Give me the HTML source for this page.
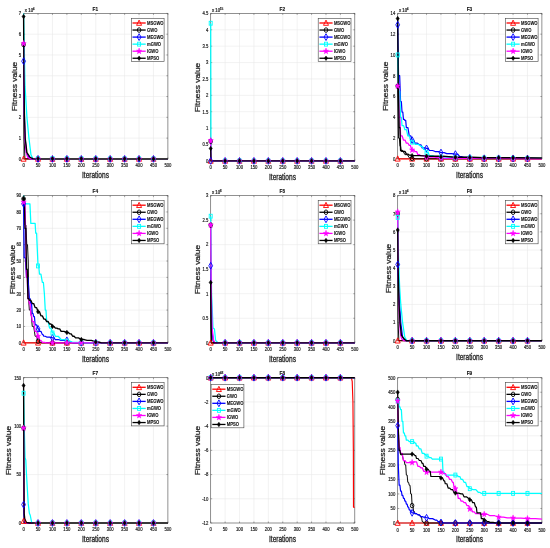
<!DOCTYPE html>
<html><head><meta charset="utf-8"><title>Convergence curves F1-F9</title>
<style>
html,body{margin:0;padding:0;background:#fff;}
body{width:550px;height:548px;overflow:hidden;}
svg{display:block;font-family:"Liberation Sans",sans-serif;}
</style></head><body>
<svg width="550" height="548" viewBox="0 0 550 548">
<rect width="550" height="548" fill="#fff"/>
<g style="filter:blur(0.3px)">
<path d="M38.03 13.40V158.90M52.46 13.40V158.90M66.89 13.40V158.90M81.32 13.40V158.90M95.75 13.40V158.90M110.18 13.40V158.90M124.61 13.40V158.90M139.04 13.40V158.90M153.47 13.40V158.90M23.60 138.11H167.90M23.60 117.33H167.90M23.60 96.54H167.90M23.60 75.76H167.90M23.60 54.97H167.90M23.60 34.19H167.90" stroke="#e8e8e8" stroke-width="0.55" fill="none"/>
<path d="M23.60 158.90v-1.5M23.60 13.40v1.5M38.03 158.90v-1.5M38.03 13.40v1.5M52.46 158.90v-1.5M52.46 13.40v1.5M66.89 158.90v-1.5M66.89 13.40v1.5M81.32 158.90v-1.5M81.32 13.40v1.5M95.75 158.90v-1.5M95.75 13.40v1.5M110.18 158.90v-1.5M110.18 13.40v1.5M124.61 158.90v-1.5M124.61 13.40v1.5M139.04 158.90v-1.5M139.04 13.40v1.5M153.47 158.90v-1.5M153.47 13.40v1.5M167.90 158.90v-1.5M167.90 13.40v1.5M23.60 158.90h1.5M167.90 158.90h-1.5M23.60 138.11h1.5M167.90 138.11h-1.5M23.60 117.33h1.5M167.90 117.33h-1.5M23.60 96.54h1.5M167.90 96.54h-1.5M23.60 75.76h1.5M167.90 75.76h-1.5M23.60 54.97h1.5M167.90 54.97h-1.5M23.60 34.19h1.5M167.90 34.19h-1.5M23.60 13.40h1.5M167.90 13.40h-1.5" stroke="#555" stroke-width="0.5" fill="none"/>
<rect x="23.60" y="13.40" width="144.30" height="145.50" fill="none" stroke="#555" stroke-width="0.65"/>
<text transform="translate(23.60 166.90) scale(0.8 1)" font-size="5.3" text-anchor="middle" font-weight="normal" fill="#222" stroke="#222" stroke-width="0.2">0</text>
<text transform="translate(38.03 166.90) scale(0.8 1)" font-size="5.3" text-anchor="middle" font-weight="normal" fill="#222" stroke="#222" stroke-width="0.2">50</text>
<text transform="translate(52.46 166.90) scale(0.8 1)" font-size="5.3" text-anchor="middle" font-weight="normal" fill="#222" stroke="#222" stroke-width="0.2">100</text>
<text transform="translate(66.89 166.90) scale(0.8 1)" font-size="5.3" text-anchor="middle" font-weight="normal" fill="#222" stroke="#222" stroke-width="0.2">150</text>
<text transform="translate(81.32 166.90) scale(0.8 1)" font-size="5.3" text-anchor="middle" font-weight="normal" fill="#222" stroke="#222" stroke-width="0.2">200</text>
<text transform="translate(95.75 166.90) scale(0.8 1)" font-size="5.3" text-anchor="middle" font-weight="normal" fill="#222" stroke="#222" stroke-width="0.2">250</text>
<text transform="translate(110.18 166.90) scale(0.8 1)" font-size="5.3" text-anchor="middle" font-weight="normal" fill="#222" stroke="#222" stroke-width="0.2">300</text>
<text transform="translate(124.61 166.90) scale(0.8 1)" font-size="5.3" text-anchor="middle" font-weight="normal" fill="#222" stroke="#222" stroke-width="0.2">350</text>
<text transform="translate(139.04 166.90) scale(0.8 1)" font-size="5.3" text-anchor="middle" font-weight="normal" fill="#222" stroke="#222" stroke-width="0.2">400</text>
<text transform="translate(153.47 166.90) scale(0.8 1)" font-size="5.3" text-anchor="middle" font-weight="normal" fill="#222" stroke="#222" stroke-width="0.2">450</text>
<text transform="translate(167.90 166.90) scale(0.8 1)" font-size="5.3" text-anchor="middle" font-weight="normal" fill="#222" stroke="#222" stroke-width="0.2">500</text>
<text transform="translate(21.20 160.70) scale(0.8 1)" font-size="5.3" text-anchor="end" font-weight="normal" fill="#222" stroke="#222" stroke-width="0.2">0</text>
<text transform="translate(21.20 139.91) scale(0.8 1)" font-size="5.3" text-anchor="end" font-weight="normal" fill="#222" stroke="#222" stroke-width="0.2">1</text>
<text transform="translate(21.20 119.13) scale(0.8 1)" font-size="5.3" text-anchor="end" font-weight="normal" fill="#222" stroke="#222" stroke-width="0.2">2</text>
<text transform="translate(21.20 98.34) scale(0.8 1)" font-size="5.3" text-anchor="end" font-weight="normal" fill="#222" stroke="#222" stroke-width="0.2">3</text>
<text transform="translate(21.20 77.56) scale(0.8 1)" font-size="5.3" text-anchor="end" font-weight="normal" fill="#222" stroke="#222" stroke-width="0.2">4</text>
<text transform="translate(21.20 56.77) scale(0.8 1)" font-size="5.3" text-anchor="end" font-weight="normal" fill="#222" stroke="#222" stroke-width="0.2">5</text>
<text transform="translate(21.20 35.99) scale(0.8 1)" font-size="5.3" text-anchor="end" font-weight="normal" fill="#222" stroke="#222" stroke-width="0.2">6</text>
<text transform="translate(21.20 15.20) scale(0.8 1)" font-size="5.3" text-anchor="end" font-weight="normal" fill="#222" stroke="#222" stroke-width="0.2">7</text>
<text transform="translate(24.80 12.10) scale(0.85 1)" font-size="5.2" text-anchor="start" font-weight="normal" fill="#2a2a2a" stroke="#2a2a2a" stroke-width="0.25">x 10<tspan font-size="3.8" dy="-2.4" dx="-0.5">4</tspan></text>
<text transform="translate(95.35 11.00) scale(0.76 1)" font-size="6.2" text-anchor="middle" font-weight="bold" fill="#111" stroke="#111" stroke-width="0.15">F1</text>
<text transform="translate(95.45 177.90) scale(0.78 1)" font-size="8.4" text-anchor="middle" font-weight="normal" fill="#262626" stroke="#262626" stroke-width="0.32">Iterations</text>
<text transform="translate(16.60 86.45) rotate(-90) scale(1 0.8)" font-size="8.4" text-anchor="middle" font-weight="normal" fill="#262626" stroke="#262626" stroke-width="0.32">Fitness value</text>
<path d="M23.60 158.90L167.90 158.90" fill="none" stroke="#ff0000" stroke-width="1.15" stroke-linejoin="round"/>
<path d="M23.60 44.58L23.89 117.33L24.18 138.11L24.90 158.90L167.90 158.90" fill="none" stroke="#000000" stroke-width="0.95" stroke-linejoin="round"/>
<path d="M23.60 61.21L23.89 86.15L24.47 117.33L25.04 138.11L26.49 152.66L28.79 157.86L31.68 158.90L167.90 158.90" fill="none" stroke="#0000ff" stroke-width="1.2" stroke-linejoin="round"/>
<path d="M23.60 13.40L24.18 44.58L25.04 86.15L26.92 117.33L28.94 138.11L30.96 154.74L32.84 158.48L167.90 158.90" fill="none" stroke="#00ffff" stroke-width="1.25" stroke-linejoin="round"/>
<path d="M23.60 43.54L23.89 86.15L24.32 117.33L24.90 138.11L26.20 152.66L27.64 157.24L30.82 158.90L167.90 158.90" fill="none" stroke="#ff00ff" stroke-width="1.25" stroke-linejoin="round"/>
<path d="M23.60 16.52L23.89 75.76L24.47 117.33L25.19 138.11L26.92 152.66L29.95 157.24L32.84 158.69L167.90 158.90" fill="none" stroke="#000000" stroke-width="1.35" stroke-linejoin="round"/>
<path d="M33.70 158.90H167.90" stroke="#3a3a3a" stroke-width="1.8"/>
<path d="M21.10 161.22L26.10 161.22L23.60 156.00Z" fill="none" stroke="#ff0000" stroke-width="0.9"/>
<path d="M35.53 161.22L40.53 161.22L38.03 156.00Z" fill="none" stroke="#ff0000" stroke-width="0.9"/>
<path d="M49.96 161.22L54.96 161.22L52.46 156.00Z" fill="none" stroke="#ff0000" stroke-width="0.9"/>
<path d="M64.39 161.22L69.39 161.22L66.89 156.00Z" fill="none" stroke="#ff0000" stroke-width="0.9"/>
<path d="M78.82 161.22L83.82 161.22L81.32 156.00Z" fill="none" stroke="#ff0000" stroke-width="0.9"/>
<path d="M93.25 161.22L98.25 161.22L95.75 156.00Z" fill="none" stroke="#ff0000" stroke-width="0.9"/>
<path d="M107.68 161.22L112.68 161.22L110.18 156.00Z" fill="none" stroke="#ff0000" stroke-width="0.9"/>
<path d="M122.11 161.22L127.11 161.22L124.61 156.00Z" fill="none" stroke="#ff0000" stroke-width="0.9"/>
<path d="M136.54 161.22L141.54 161.22L139.04 156.00Z" fill="none" stroke="#ff0000" stroke-width="0.9"/>
<path d="M150.97 161.22L155.97 161.22L153.47 156.00Z" fill="none" stroke="#ff0000" stroke-width="0.9"/>
<ellipse cx="23.60" cy="44.58" rx="1.75" ry="2.30" fill="none" stroke="#000000" stroke-width="0.9"/>
<ellipse cx="38.03" cy="158.90" rx="1.75" ry="2.30" fill="none" stroke="#000000" stroke-width="0.9"/>
<ellipse cx="52.46" cy="158.90" rx="1.75" ry="2.30" fill="none" stroke="#000000" stroke-width="0.9"/>
<ellipse cx="66.89" cy="158.90" rx="1.75" ry="2.30" fill="none" stroke="#000000" stroke-width="0.9"/>
<ellipse cx="81.32" cy="158.90" rx="1.75" ry="2.30" fill="none" stroke="#000000" stroke-width="0.9"/>
<ellipse cx="95.75" cy="158.90" rx="1.75" ry="2.30" fill="none" stroke="#000000" stroke-width="0.9"/>
<ellipse cx="110.18" cy="158.90" rx="1.75" ry="2.30" fill="none" stroke="#000000" stroke-width="0.9"/>
<ellipse cx="124.61" cy="158.90" rx="1.75" ry="2.30" fill="none" stroke="#000000" stroke-width="0.9"/>
<ellipse cx="139.04" cy="158.90" rx="1.75" ry="2.30" fill="none" stroke="#000000" stroke-width="0.9"/>
<ellipse cx="153.47" cy="158.90" rx="1.75" ry="2.30" fill="none" stroke="#000000" stroke-width="0.9"/>
<path d="M21.70 61.21L23.60 57.81L25.50 61.21L23.60 64.61Z" fill="none" stroke="#0000ff" stroke-width="0.9"/>
<path d="M36.13 158.90L38.03 155.50L39.93 158.90L38.03 162.30Z" fill="none" stroke="#0000ff" stroke-width="0.9"/>
<path d="M50.56 158.90L52.46 155.50L54.36 158.90L52.46 162.30Z" fill="none" stroke="#0000ff" stroke-width="0.9"/>
<path d="M64.99 158.90L66.89 155.50L68.79 158.90L66.89 162.30Z" fill="none" stroke="#0000ff" stroke-width="0.9"/>
<path d="M79.42 158.90L81.32 155.50L83.22 158.90L81.32 162.30Z" fill="none" stroke="#0000ff" stroke-width="0.9"/>
<path d="M93.85 158.90L95.75 155.50L97.65 158.90L95.75 162.30Z" fill="none" stroke="#0000ff" stroke-width="0.9"/>
<path d="M108.28 158.90L110.18 155.50L112.08 158.90L110.18 162.30Z" fill="none" stroke="#0000ff" stroke-width="0.9"/>
<path d="M122.71 158.90L124.61 155.50L126.51 158.90L124.61 162.30Z" fill="none" stroke="#0000ff" stroke-width="0.9"/>
<path d="M137.14 158.90L139.04 155.50L140.94 158.90L139.04 162.30Z" fill="none" stroke="#0000ff" stroke-width="0.9"/>
<path d="M151.57 158.90L153.47 155.50L155.37 158.90L153.47 162.30Z" fill="none" stroke="#0000ff" stroke-width="0.9"/>
<rect x="36.53" y="156.55" width="3.00" height="3.90" fill="none" stroke="#00ffff" stroke-width="0.9"/>
<rect x="50.96" y="156.59" width="3.00" height="3.90" fill="none" stroke="#00ffff" stroke-width="0.9"/>
<rect x="65.39" y="156.64" width="3.00" height="3.90" fill="none" stroke="#00ffff" stroke-width="0.9"/>
<rect x="79.82" y="156.68" width="3.00" height="3.90" fill="none" stroke="#00ffff" stroke-width="0.9"/>
<rect x="94.25" y="156.73" width="3.00" height="3.90" fill="none" stroke="#00ffff" stroke-width="0.9"/>
<rect x="108.68" y="156.77" width="3.00" height="3.90" fill="none" stroke="#00ffff" stroke-width="0.9"/>
<rect x="123.11" y="156.82" width="3.00" height="3.90" fill="none" stroke="#00ffff" stroke-width="0.9"/>
<rect x="137.54" y="156.86" width="3.00" height="3.90" fill="none" stroke="#00ffff" stroke-width="0.9"/>
<rect x="151.97" y="156.91" width="3.00" height="3.90" fill="none" stroke="#00ffff" stroke-width="0.9"/>
<path d="M23.60 40.41L24.25 42.53L26.22 42.57L24.65 43.93L25.22 46.07L23.60 44.79L21.98 46.07L22.55 43.93L20.98 42.57L22.95 42.53Z" fill="#ff00ff" stroke="#ff00ff" stroke-width="0.5"/>
<path d="M38.03 155.78L38.68 157.89L40.65 157.93L39.08 159.29L39.65 161.43L38.03 160.15L36.41 161.43L36.98 159.29L35.41 157.93L37.38 157.89Z" fill="#ff00ff" stroke="#ff00ff" stroke-width="0.5"/>
<path d="M52.46 155.78L53.11 157.89L55.08 157.93L53.51 159.29L54.08 161.43L52.46 160.15L50.84 161.43L51.41 159.29L49.84 157.93L51.81 157.89Z" fill="#ff00ff" stroke="#ff00ff" stroke-width="0.5"/>
<path d="M66.89 155.78L67.54 157.89L69.51 157.93L67.94 159.29L68.51 161.43L66.89 160.15L65.27 161.43L65.84 159.29L64.27 157.93L66.24 157.89Z" fill="#ff00ff" stroke="#ff00ff" stroke-width="0.5"/>
<path d="M81.32 155.78L81.97 157.89L83.94 157.93L82.37 159.29L82.94 161.43L81.32 160.15L79.70 161.43L80.27 159.29L78.70 157.93L80.67 157.89Z" fill="#ff00ff" stroke="#ff00ff" stroke-width="0.5"/>
<path d="M95.75 155.78L96.40 157.89L98.37 157.93L96.80 159.29L97.37 161.43L95.75 160.15L94.13 161.43L94.70 159.29L93.13 157.93L95.10 157.89Z" fill="#ff00ff" stroke="#ff00ff" stroke-width="0.5"/>
<path d="M110.18 155.78L110.83 157.89L112.80 157.93L111.23 159.29L111.80 161.43L110.18 160.15L108.56 161.43L109.13 159.29L107.56 157.93L109.53 157.89Z" fill="#ff00ff" stroke="#ff00ff" stroke-width="0.5"/>
<path d="M124.61 155.78L125.26 157.89L127.23 157.93L125.66 159.29L126.23 161.43L124.61 160.15L122.99 161.43L123.56 159.29L121.99 157.93L123.96 157.89Z" fill="#ff00ff" stroke="#ff00ff" stroke-width="0.5"/>
<path d="M139.04 155.78L139.69 157.89L141.66 157.93L140.09 159.29L140.66 161.43L139.04 160.15L137.42 161.43L137.99 159.29L136.42 157.93L138.39 157.89Z" fill="#ff00ff" stroke="#ff00ff" stroke-width="0.5"/>
<path d="M153.47 155.78L154.12 157.89L156.09 157.93L154.52 159.29L155.09 161.43L153.47 160.15L151.85 161.43L152.42 159.29L150.85 157.93L152.82 157.89Z" fill="#ff00ff" stroke="#ff00ff" stroke-width="0.5"/>
<path d="M22.00 16.52L23.60 14.22L25.20 16.52L23.60 18.82Z" fill="#000000" stroke="#000000" stroke-width="0.5"/>
<path d="M36.43 158.70L38.03 156.40L39.63 158.70L38.03 161.00Z" fill="#000000" stroke="#000000" stroke-width="0.5"/>
<path d="M50.86 158.72L52.46 156.42L54.06 158.72L52.46 161.02Z" fill="#000000" stroke="#000000" stroke-width="0.5"/>
<path d="M65.29 158.74L66.89 156.44L68.49 158.74L66.89 161.04Z" fill="#000000" stroke="#000000" stroke-width="0.5"/>
<path d="M79.72 158.77L81.32 156.47L82.92 158.77L81.32 161.07Z" fill="#000000" stroke="#000000" stroke-width="0.5"/>
<path d="M94.15 158.79L95.75 156.49L97.35 158.79L95.75 161.09Z" fill="#000000" stroke="#000000" stroke-width="0.5"/>
<path d="M108.58 158.81L110.18 156.51L111.78 158.81L110.18 161.11Z" fill="#000000" stroke="#000000" stroke-width="0.5"/>
<path d="M123.01 158.83L124.61 156.53L126.21 158.83L124.61 161.13Z" fill="#000000" stroke="#000000" stroke-width="0.5"/>
<path d="M137.44 158.86L139.04 156.56L140.64 158.86L139.04 161.16Z" fill="#000000" stroke="#000000" stroke-width="0.5"/>
<path d="M151.87 158.88L153.47 156.58L155.07 158.88L153.47 161.18Z" fill="#000000" stroke="#000000" stroke-width="0.5"/>
<rect x="131.30" y="18.30" width="32.8" height="43.3" fill="#fff" stroke="#444" stroke-width="0.6"/>
<path d="M132.50 23.00h13.2" stroke="#ff0000" stroke-width="1.3"/>
<path d="M136.60 25.32L141.60 25.32L139.10 20.10Z" fill="none" stroke="#ff0000" stroke-width="0.9"/>
<text transform="translate(147.00 24.80) scale(0.8 1)" font-size="5.2" text-anchor="start" font-weight="bold" fill="#111" stroke="#111" stroke-width="0.1">MSGWO</text>
<path d="M132.50 30.05h13.2" stroke="#000000" stroke-width="1.3"/>
<ellipse cx="139.10" cy="30.05" rx="1.75" ry="2.30" fill="none" stroke="#000000" stroke-width="0.9"/>
<text transform="translate(147.00 31.85) scale(0.8 1)" font-size="5.2" text-anchor="start" font-weight="bold" fill="#111" stroke="#111" stroke-width="0.1">GWO</text>
<path d="M132.50 37.10h13.2" stroke="#0000ff" stroke-width="1.3"/>
<path d="M137.20 37.10L139.10 33.70L141.00 37.10L139.10 40.50Z" fill="none" stroke="#0000ff" stroke-width="0.9"/>
<text transform="translate(147.00 38.90) scale(0.8 1)" font-size="5.2" text-anchor="start" font-weight="bold" fill="#111" stroke="#111" stroke-width="0.1">MEGWO</text>
<path d="M132.50 44.15h13.2" stroke="#00ffff" stroke-width="1.3"/>
<rect x="137.60" y="42.20" width="3.00" height="3.90" fill="none" stroke="#00ffff" stroke-width="0.9"/>
<text transform="translate(147.00 45.95) scale(0.8 1)" font-size="5.2" text-anchor="start" font-weight="bold" fill="#111" stroke="#111" stroke-width="0.1">mGWO</text>
<path d="M132.50 51.20h13.2" stroke="#ff00ff" stroke-width="1.3"/>
<path d="M139.10 48.08L139.75 50.19L141.72 50.23L140.15 51.59L140.72 53.73L139.10 52.45L137.48 53.73L138.05 51.59L136.48 50.23L138.45 50.19Z" fill="#ff00ff" stroke="#ff00ff" stroke-width="0.5"/>
<text transform="translate(147.00 53.00) scale(0.8 1)" font-size="5.2" text-anchor="start" font-weight="bold" fill="#111" stroke="#111" stroke-width="0.1">IGWO</text>
<path d="M132.50 58.25h13.2" stroke="#000000" stroke-width="1.3"/>
<path d="M137.50 58.25L139.10 55.95L140.70 58.25L139.10 60.55Z" fill="#000000" stroke="#000000" stroke-width="0.5"/>
<text transform="translate(147.00 60.05) scale(0.8 1)" font-size="5.2" text-anchor="start" font-weight="bold" fill="#111" stroke="#111" stroke-width="0.1">MPSO</text>
<path d="M225.11 13.40V160.90M239.52 13.40V160.90M253.93 13.40V160.90M268.34 13.40V160.90M282.75 13.40V160.90M297.16 13.40V160.90M311.57 13.40V160.90M325.98 13.40V160.90M340.39 13.40V160.90M210.70 144.51H354.80M210.70 128.12H354.80M210.70 111.73H354.80M210.70 95.34H354.80M210.70 78.96H354.80M210.70 62.57H354.80M210.70 46.18H354.80M210.70 29.79H354.80" stroke="#e8e8e8" stroke-width="0.55" fill="none"/>
<path d="M210.70 160.90v-1.5M210.70 13.40v1.5M225.11 160.90v-1.5M225.11 13.40v1.5M239.52 160.90v-1.5M239.52 13.40v1.5M253.93 160.90v-1.5M253.93 13.40v1.5M268.34 160.90v-1.5M268.34 13.40v1.5M282.75 160.90v-1.5M282.75 13.40v1.5M297.16 160.90v-1.5M297.16 13.40v1.5M311.57 160.90v-1.5M311.57 13.40v1.5M325.98 160.90v-1.5M325.98 13.40v1.5M340.39 160.90v-1.5M340.39 13.40v1.5M354.80 160.90v-1.5M354.80 13.40v1.5M210.70 160.90h1.5M354.80 160.90h-1.5M210.70 144.51h1.5M354.80 144.51h-1.5M210.70 128.12h1.5M354.80 128.12h-1.5M210.70 111.73h1.5M354.80 111.73h-1.5M210.70 95.34h1.5M354.80 95.34h-1.5M210.70 78.96h1.5M354.80 78.96h-1.5M210.70 62.57h1.5M354.80 62.57h-1.5M210.70 46.18h1.5M354.80 46.18h-1.5M210.70 29.79h1.5M354.80 29.79h-1.5M210.70 13.40h1.5M354.80 13.40h-1.5" stroke="#555" stroke-width="0.5" fill="none"/>
<rect x="210.70" y="13.40" width="144.10" height="147.50" fill="none" stroke="#555" stroke-width="0.65"/>
<text transform="translate(210.70 169.40) scale(0.8 1)" font-size="5.3" text-anchor="middle" font-weight="normal" fill="#222" stroke="#222" stroke-width="0.2">0</text>
<text transform="translate(225.11 169.40) scale(0.8 1)" font-size="5.3" text-anchor="middle" font-weight="normal" fill="#222" stroke="#222" stroke-width="0.2">50</text>
<text transform="translate(239.52 169.40) scale(0.8 1)" font-size="5.3" text-anchor="middle" font-weight="normal" fill="#222" stroke="#222" stroke-width="0.2">100</text>
<text transform="translate(253.93 169.40) scale(0.8 1)" font-size="5.3" text-anchor="middle" font-weight="normal" fill="#222" stroke="#222" stroke-width="0.2">150</text>
<text transform="translate(268.34 169.40) scale(0.8 1)" font-size="5.3" text-anchor="middle" font-weight="normal" fill="#222" stroke="#222" stroke-width="0.2">200</text>
<text transform="translate(282.75 169.40) scale(0.8 1)" font-size="5.3" text-anchor="middle" font-weight="normal" fill="#222" stroke="#222" stroke-width="0.2">250</text>
<text transform="translate(297.16 169.40) scale(0.8 1)" font-size="5.3" text-anchor="middle" font-weight="normal" fill="#222" stroke="#222" stroke-width="0.2">300</text>
<text transform="translate(311.57 169.40) scale(0.8 1)" font-size="5.3" text-anchor="middle" font-weight="normal" fill="#222" stroke="#222" stroke-width="0.2">350</text>
<text transform="translate(325.98 169.40) scale(0.8 1)" font-size="5.3" text-anchor="middle" font-weight="normal" fill="#222" stroke="#222" stroke-width="0.2">400</text>
<text transform="translate(340.39 169.40) scale(0.8 1)" font-size="5.3" text-anchor="middle" font-weight="normal" fill="#222" stroke="#222" stroke-width="0.2">450</text>
<text transform="translate(354.80 169.40) scale(0.8 1)" font-size="5.3" text-anchor="middle" font-weight="normal" fill="#222" stroke="#222" stroke-width="0.2">500</text>
<text transform="translate(208.30 162.70) scale(0.8 1)" font-size="5.3" text-anchor="end" font-weight="normal" fill="#222" stroke="#222" stroke-width="0.2">0</text>
<text transform="translate(208.30 146.31) scale(0.8 1)" font-size="5.3" text-anchor="end" font-weight="normal" fill="#222" stroke="#222" stroke-width="0.2">0.5</text>
<text transform="translate(208.30 129.92) scale(0.8 1)" font-size="5.3" text-anchor="end" font-weight="normal" fill="#222" stroke="#222" stroke-width="0.2">1</text>
<text transform="translate(208.30 113.53) scale(0.8 1)" font-size="5.3" text-anchor="end" font-weight="normal" fill="#222" stroke="#222" stroke-width="0.2">1.5</text>
<text transform="translate(208.30 97.14) scale(0.8 1)" font-size="5.3" text-anchor="end" font-weight="normal" fill="#222" stroke="#222" stroke-width="0.2">2</text>
<text transform="translate(208.30 80.76) scale(0.8 1)" font-size="5.3" text-anchor="end" font-weight="normal" fill="#222" stroke="#222" stroke-width="0.2">2.5</text>
<text transform="translate(208.30 64.37) scale(0.8 1)" font-size="5.3" text-anchor="end" font-weight="normal" fill="#222" stroke="#222" stroke-width="0.2">3</text>
<text transform="translate(208.30 47.98) scale(0.8 1)" font-size="5.3" text-anchor="end" font-weight="normal" fill="#222" stroke="#222" stroke-width="0.2">3.5</text>
<text transform="translate(208.30 31.59) scale(0.8 1)" font-size="5.3" text-anchor="end" font-weight="normal" fill="#222" stroke="#222" stroke-width="0.2">4</text>
<text transform="translate(208.30 15.20) scale(0.8 1)" font-size="5.3" text-anchor="end" font-weight="normal" fill="#222" stroke="#222" stroke-width="0.2">4.5</text>
<text transform="translate(211.90 12.10) scale(0.85 1)" font-size="5.2" text-anchor="start" font-weight="normal" fill="#2a2a2a" stroke="#2a2a2a" stroke-width="0.25">x 10<tspan font-size="3.8" dy="-2.4" dx="-0.5">15</tspan></text>
<text transform="translate(282.35 11.00) scale(0.76 1)" font-size="6.2" text-anchor="middle" font-weight="bold" fill="#111" stroke="#111" stroke-width="0.15">F2</text>
<text transform="translate(282.45 180.20) scale(0.78 1)" font-size="8.4" text-anchor="middle" font-weight="normal" fill="#262626" stroke="#262626" stroke-width="0.32">Iterations</text>
<text transform="translate(199.60 87.45) rotate(-90) scale(1 0.8)" font-size="8.4" text-anchor="middle" font-weight="normal" fill="#262626" stroke="#262626" stroke-width="0.32">Fitness value</text>
<path d="M210.70 160.90L354.80 160.90" fill="none" stroke="#ff0000" stroke-width="1.15" stroke-linejoin="round"/>
<path d="M210.70 141.23L210.99 160.90L354.80 160.90" fill="none" stroke="#000000" stroke-width="0.95" stroke-linejoin="round"/>
<path d="M210.70 160.90L354.80 160.90" fill="none" stroke="#0000ff" stroke-width="1.2" stroke-linejoin="round"/>
<path d="M210.70 23.23L210.99 160.90L354.80 160.90" fill="none" stroke="#00ffff" stroke-width="1.25" stroke-linejoin="round"/>
<path d="M210.70 140.58L210.99 160.90L354.80 160.90" fill="none" stroke="#ff00ff" stroke-width="1.25" stroke-linejoin="round"/>
<path d="M210.70 148.44L210.99 160.90L354.80 160.90" fill="none" stroke="#000000" stroke-width="1.35" stroke-linejoin="round"/>
<path d="M208.20 163.22L213.20 163.22L210.70 158.00Z" fill="none" stroke="#ff0000" stroke-width="0.9"/>
<path d="M222.61 163.22L227.61 163.22L225.11 158.00Z" fill="none" stroke="#ff0000" stroke-width="0.9"/>
<path d="M237.02 163.22L242.02 163.22L239.52 158.00Z" fill="none" stroke="#ff0000" stroke-width="0.9"/>
<path d="M251.43 163.22L256.43 163.22L253.93 158.00Z" fill="none" stroke="#ff0000" stroke-width="0.9"/>
<path d="M265.84 163.22L270.84 163.22L268.34 158.00Z" fill="none" stroke="#ff0000" stroke-width="0.9"/>
<path d="M280.25 163.22L285.25 163.22L282.75 158.00Z" fill="none" stroke="#ff0000" stroke-width="0.9"/>
<path d="M294.66 163.22L299.66 163.22L297.16 158.00Z" fill="none" stroke="#ff0000" stroke-width="0.9"/>
<path d="M309.07 163.22L314.07 163.22L311.57 158.00Z" fill="none" stroke="#ff0000" stroke-width="0.9"/>
<path d="M323.48 163.22L328.48 163.22L325.98 158.00Z" fill="none" stroke="#ff0000" stroke-width="0.9"/>
<path d="M337.89 163.22L342.89 163.22L340.39 158.00Z" fill="none" stroke="#ff0000" stroke-width="0.9"/>
<ellipse cx="210.70" cy="141.23" rx="1.75" ry="2.30" fill="none" stroke="#000000" stroke-width="0.9"/>
<ellipse cx="225.11" cy="160.90" rx="1.75" ry="2.30" fill="none" stroke="#000000" stroke-width="0.9"/>
<ellipse cx="239.52" cy="160.90" rx="1.75" ry="2.30" fill="none" stroke="#000000" stroke-width="0.9"/>
<ellipse cx="253.93" cy="160.90" rx="1.75" ry="2.30" fill="none" stroke="#000000" stroke-width="0.9"/>
<ellipse cx="268.34" cy="160.90" rx="1.75" ry="2.30" fill="none" stroke="#000000" stroke-width="0.9"/>
<ellipse cx="282.75" cy="160.90" rx="1.75" ry="2.30" fill="none" stroke="#000000" stroke-width="0.9"/>
<ellipse cx="297.16" cy="160.90" rx="1.75" ry="2.30" fill="none" stroke="#000000" stroke-width="0.9"/>
<ellipse cx="311.57" cy="160.90" rx="1.75" ry="2.30" fill="none" stroke="#000000" stroke-width="0.9"/>
<ellipse cx="325.98" cy="160.90" rx="1.75" ry="2.30" fill="none" stroke="#000000" stroke-width="0.9"/>
<ellipse cx="340.39" cy="160.90" rx="1.75" ry="2.30" fill="none" stroke="#000000" stroke-width="0.9"/>
<path d="M208.80 160.90L210.70 157.50L212.60 160.90L210.70 164.30Z" fill="none" stroke="#0000ff" stroke-width="0.9"/>
<path d="M223.21 160.90L225.11 157.50L227.01 160.90L225.11 164.30Z" fill="none" stroke="#0000ff" stroke-width="0.9"/>
<path d="M237.62 160.90L239.52 157.50L241.42 160.90L239.52 164.30Z" fill="none" stroke="#0000ff" stroke-width="0.9"/>
<path d="M252.03 160.90L253.93 157.50L255.83 160.90L253.93 164.30Z" fill="none" stroke="#0000ff" stroke-width="0.9"/>
<path d="M266.44 160.90L268.34 157.50L270.24 160.90L268.34 164.30Z" fill="none" stroke="#0000ff" stroke-width="0.9"/>
<path d="M280.85 160.90L282.75 157.50L284.65 160.90L282.75 164.30Z" fill="none" stroke="#0000ff" stroke-width="0.9"/>
<path d="M295.26 160.90L297.16 157.50L299.06 160.90L297.16 164.30Z" fill="none" stroke="#0000ff" stroke-width="0.9"/>
<path d="M309.67 160.90L311.57 157.50L313.47 160.90L311.57 164.30Z" fill="none" stroke="#0000ff" stroke-width="0.9"/>
<path d="M324.08 160.90L325.98 157.50L327.88 160.90L325.98 164.30Z" fill="none" stroke="#0000ff" stroke-width="0.9"/>
<path d="M338.49 160.90L340.39 157.50L342.29 160.90L340.39 164.30Z" fill="none" stroke="#0000ff" stroke-width="0.9"/>
<rect x="209.20" y="21.28" width="3.00" height="3.90" fill="none" stroke="#00ffff" stroke-width="0.9"/>
<rect x="223.61" y="158.95" width="3.00" height="3.90" fill="none" stroke="#00ffff" stroke-width="0.9"/>
<rect x="238.02" y="158.95" width="3.00" height="3.90" fill="none" stroke="#00ffff" stroke-width="0.9"/>
<rect x="252.43" y="158.95" width="3.00" height="3.90" fill="none" stroke="#00ffff" stroke-width="0.9"/>
<rect x="266.84" y="158.95" width="3.00" height="3.90" fill="none" stroke="#00ffff" stroke-width="0.9"/>
<rect x="281.25" y="158.95" width="3.00" height="3.90" fill="none" stroke="#00ffff" stroke-width="0.9"/>
<rect x="295.66" y="158.95" width="3.00" height="3.90" fill="none" stroke="#00ffff" stroke-width="0.9"/>
<rect x="310.07" y="158.95" width="3.00" height="3.90" fill="none" stroke="#00ffff" stroke-width="0.9"/>
<rect x="324.48" y="158.95" width="3.00" height="3.90" fill="none" stroke="#00ffff" stroke-width="0.9"/>
<rect x="338.89" y="158.95" width="3.00" height="3.90" fill="none" stroke="#00ffff" stroke-width="0.9"/>
<path d="M210.70 137.45L211.35 139.57L213.32 139.61L211.75 140.96L212.32 143.11L210.70 141.83L209.08 143.11L209.65 140.96L208.08 139.61L210.05 139.57Z" fill="#ff00ff" stroke="#ff00ff" stroke-width="0.5"/>
<path d="M225.11 157.78L225.76 159.89L227.73 159.93L226.16 161.29L226.73 163.43L225.11 162.15L223.49 163.43L224.06 161.29L222.49 159.93L224.46 159.89Z" fill="#ff00ff" stroke="#ff00ff" stroke-width="0.5"/>
<path d="M239.52 157.78L240.17 159.89L242.14 159.93L240.57 161.29L241.14 163.43L239.52 162.15L237.90 163.43L238.47 161.29L236.90 159.93L238.87 159.89Z" fill="#ff00ff" stroke="#ff00ff" stroke-width="0.5"/>
<path d="M253.93 157.78L254.58 159.89L256.55 159.93L254.98 161.29L255.55 163.43L253.93 162.15L252.31 163.43L252.88 161.29L251.31 159.93L253.28 159.89Z" fill="#ff00ff" stroke="#ff00ff" stroke-width="0.5"/>
<path d="M268.34 157.78L268.99 159.89L270.96 159.93L269.39 161.29L269.96 163.43L268.34 162.15L266.72 163.43L267.29 161.29L265.72 159.93L267.69 159.89Z" fill="#ff00ff" stroke="#ff00ff" stroke-width="0.5"/>
<path d="M282.75 157.78L283.40 159.89L285.37 159.93L283.80 161.29L284.37 163.43L282.75 162.15L281.13 163.43L281.70 161.29L280.13 159.93L282.10 159.89Z" fill="#ff00ff" stroke="#ff00ff" stroke-width="0.5"/>
<path d="M297.16 157.78L297.81 159.89L299.78 159.93L298.21 161.29L298.78 163.43L297.16 162.15L295.54 163.43L296.11 161.29L294.54 159.93L296.51 159.89Z" fill="#ff00ff" stroke="#ff00ff" stroke-width="0.5"/>
<path d="M311.57 157.78L312.22 159.89L314.19 159.93L312.62 161.29L313.19 163.43L311.57 162.15L309.95 163.43L310.52 161.29L308.95 159.93L310.92 159.89Z" fill="#ff00ff" stroke="#ff00ff" stroke-width="0.5"/>
<path d="M325.98 157.78L326.63 159.89L328.60 159.93L327.03 161.29L327.60 163.43L325.98 162.15L324.36 163.43L324.93 161.29L323.36 159.93L325.33 159.89Z" fill="#ff00ff" stroke="#ff00ff" stroke-width="0.5"/>
<path d="M340.39 157.78L341.04 159.89L343.01 159.93L341.44 161.29L342.01 163.43L340.39 162.15L338.77 163.43L339.34 161.29L337.77 159.93L339.74 159.89Z" fill="#ff00ff" stroke="#ff00ff" stroke-width="0.5"/>
<path d="M209.10 148.44L210.70 146.14L212.30 148.44L210.70 150.74Z" fill="#000000" stroke="#000000" stroke-width="0.5"/>
<path d="M223.51 160.90L225.11 158.60L226.71 160.90L225.11 163.20Z" fill="#000000" stroke="#000000" stroke-width="0.5"/>
<path d="M237.92 160.90L239.52 158.60L241.12 160.90L239.52 163.20Z" fill="#000000" stroke="#000000" stroke-width="0.5"/>
<path d="M252.33 160.90L253.93 158.60L255.53 160.90L253.93 163.20Z" fill="#000000" stroke="#000000" stroke-width="0.5"/>
<path d="M266.74 160.90L268.34 158.60L269.94 160.90L268.34 163.20Z" fill="#000000" stroke="#000000" stroke-width="0.5"/>
<path d="M281.15 160.90L282.75 158.60L284.35 160.90L282.75 163.20Z" fill="#000000" stroke="#000000" stroke-width="0.5"/>
<path d="M295.56 160.90L297.16 158.60L298.76 160.90L297.16 163.20Z" fill="#000000" stroke="#000000" stroke-width="0.5"/>
<path d="M309.97 160.90L311.57 158.60L313.17 160.90L311.57 163.20Z" fill="#000000" stroke="#000000" stroke-width="0.5"/>
<path d="M324.38 160.90L325.98 158.60L327.58 160.90L325.98 163.20Z" fill="#000000" stroke="#000000" stroke-width="0.5"/>
<path d="M338.79 160.90L340.39 158.60L341.99 160.90L340.39 163.20Z" fill="#000000" stroke="#000000" stroke-width="0.5"/>
<rect x="318.20" y="18.30" width="32.8" height="43.3" fill="#fff" stroke="#444" stroke-width="0.6"/>
<path d="M319.40 23.00h13.2" stroke="#ff0000" stroke-width="1.3"/>
<path d="M323.50 25.32L328.50 25.32L326.00 20.10Z" fill="none" stroke="#ff0000" stroke-width="0.9"/>
<text transform="translate(333.90 24.80) scale(0.8 1)" font-size="5.2" text-anchor="start" font-weight="bold" fill="#111" stroke="#111" stroke-width="0.1">MSGWO</text>
<path d="M319.40 30.05h13.2" stroke="#000000" stroke-width="1.3"/>
<ellipse cx="326.00" cy="30.05" rx="1.75" ry="2.30" fill="none" stroke="#000000" stroke-width="0.9"/>
<text transform="translate(333.90 31.85) scale(0.8 1)" font-size="5.2" text-anchor="start" font-weight="bold" fill="#111" stroke="#111" stroke-width="0.1">GWO</text>
<path d="M319.40 37.10h13.2" stroke="#0000ff" stroke-width="1.3"/>
<path d="M324.10 37.10L326.00 33.70L327.90 37.10L326.00 40.50Z" fill="none" stroke="#0000ff" stroke-width="0.9"/>
<text transform="translate(333.90 38.90) scale(0.8 1)" font-size="5.2" text-anchor="start" font-weight="bold" fill="#111" stroke="#111" stroke-width="0.1">MEGWO</text>
<path d="M319.40 44.15h13.2" stroke="#00ffff" stroke-width="1.3"/>
<rect x="324.50" y="42.20" width="3.00" height="3.90" fill="none" stroke="#00ffff" stroke-width="0.9"/>
<text transform="translate(333.90 45.95) scale(0.8 1)" font-size="5.2" text-anchor="start" font-weight="bold" fill="#111" stroke="#111" stroke-width="0.1">mGWO</text>
<path d="M319.40 51.20h13.2" stroke="#ff00ff" stroke-width="1.3"/>
<path d="M326.00 48.08L326.65 50.19L328.62 50.23L327.05 51.59L327.62 53.73L326.00 52.45L324.38 53.73L324.95 51.59L323.38 50.23L325.35 50.19Z" fill="#ff00ff" stroke="#ff00ff" stroke-width="0.5"/>
<text transform="translate(333.90 53.00) scale(0.8 1)" font-size="5.2" text-anchor="start" font-weight="bold" fill="#111" stroke="#111" stroke-width="0.1">IGWO</text>
<path d="M319.40 58.25h13.2" stroke="#000000" stroke-width="1.3"/>
<path d="M324.40 58.25L326.00 55.95L327.60 58.25L326.00 60.55Z" fill="#000000" stroke="#000000" stroke-width="0.5"/>
<text transform="translate(333.90 60.05) scale(0.8 1)" font-size="5.2" text-anchor="start" font-weight="bold" fill="#111" stroke="#111" stroke-width="0.1">MPSO</text>
<path d="M412.12 13.40V158.80M426.54 13.40V158.80M440.96 13.40V158.80M455.38 13.40V158.80M469.80 13.40V158.80M484.22 13.40V158.80M498.64 13.40V158.80M513.06 13.40V158.80M527.48 13.40V158.80M397.70 138.03H541.90M397.70 117.26H541.90M397.70 96.49H541.90M397.70 75.71H541.90M397.70 54.94H541.90M397.70 34.17H541.90" stroke="#e8e8e8" stroke-width="0.55" fill="none"/>
<path d="M397.70 158.80v-1.5M397.70 13.40v1.5M412.12 158.80v-1.5M412.12 13.40v1.5M426.54 158.80v-1.5M426.54 13.40v1.5M440.96 158.80v-1.5M440.96 13.40v1.5M455.38 158.80v-1.5M455.38 13.40v1.5M469.80 158.80v-1.5M469.80 13.40v1.5M484.22 158.80v-1.5M484.22 13.40v1.5M498.64 158.80v-1.5M498.64 13.40v1.5M513.06 158.80v-1.5M513.06 13.40v1.5M527.48 158.80v-1.5M527.48 13.40v1.5M541.90 158.80v-1.5M541.90 13.40v1.5M397.70 158.80h1.5M541.90 158.80h-1.5M397.70 138.03h1.5M541.90 138.03h-1.5M397.70 117.26h1.5M541.90 117.26h-1.5M397.70 96.49h1.5M541.90 96.49h-1.5M397.70 75.71h1.5M541.90 75.71h-1.5M397.70 54.94h1.5M541.90 54.94h-1.5M397.70 34.17h1.5M541.90 34.17h-1.5M397.70 13.40h1.5M541.90 13.40h-1.5" stroke="#555" stroke-width="0.5" fill="none"/>
<rect x="397.70" y="13.40" width="144.20" height="145.40" fill="none" stroke="#555" stroke-width="0.65"/>
<text transform="translate(397.70 167.10) scale(0.8 1)" font-size="5.3" text-anchor="middle" font-weight="normal" fill="#222" stroke="#222" stroke-width="0.2">0</text>
<text transform="translate(412.12 167.10) scale(0.8 1)" font-size="5.3" text-anchor="middle" font-weight="normal" fill="#222" stroke="#222" stroke-width="0.2">50</text>
<text transform="translate(426.54 167.10) scale(0.8 1)" font-size="5.3" text-anchor="middle" font-weight="normal" fill="#222" stroke="#222" stroke-width="0.2">100</text>
<text transform="translate(440.96 167.10) scale(0.8 1)" font-size="5.3" text-anchor="middle" font-weight="normal" fill="#222" stroke="#222" stroke-width="0.2">150</text>
<text transform="translate(455.38 167.10) scale(0.8 1)" font-size="5.3" text-anchor="middle" font-weight="normal" fill="#222" stroke="#222" stroke-width="0.2">200</text>
<text transform="translate(469.80 167.10) scale(0.8 1)" font-size="5.3" text-anchor="middle" font-weight="normal" fill="#222" stroke="#222" stroke-width="0.2">250</text>
<text transform="translate(484.22 167.10) scale(0.8 1)" font-size="5.3" text-anchor="middle" font-weight="normal" fill="#222" stroke="#222" stroke-width="0.2">300</text>
<text transform="translate(498.64 167.10) scale(0.8 1)" font-size="5.3" text-anchor="middle" font-weight="normal" fill="#222" stroke="#222" stroke-width="0.2">350</text>
<text transform="translate(513.06 167.10) scale(0.8 1)" font-size="5.3" text-anchor="middle" font-weight="normal" fill="#222" stroke="#222" stroke-width="0.2">400</text>
<text transform="translate(527.48 167.10) scale(0.8 1)" font-size="5.3" text-anchor="middle" font-weight="normal" fill="#222" stroke="#222" stroke-width="0.2">450</text>
<text transform="translate(541.90 167.10) scale(0.8 1)" font-size="5.3" text-anchor="middle" font-weight="normal" fill="#222" stroke="#222" stroke-width="0.2">500</text>
<text transform="translate(395.30 160.60) scale(0.8 1)" font-size="5.3" text-anchor="end" font-weight="normal" fill="#222" stroke="#222" stroke-width="0.2">0</text>
<text transform="translate(395.30 139.83) scale(0.8 1)" font-size="5.3" text-anchor="end" font-weight="normal" fill="#222" stroke="#222" stroke-width="0.2">2</text>
<text transform="translate(395.30 119.06) scale(0.8 1)" font-size="5.3" text-anchor="end" font-weight="normal" fill="#222" stroke="#222" stroke-width="0.2">4</text>
<text transform="translate(395.30 98.29) scale(0.8 1)" font-size="5.3" text-anchor="end" font-weight="normal" fill="#222" stroke="#222" stroke-width="0.2">6</text>
<text transform="translate(395.30 77.51) scale(0.8 1)" font-size="5.3" text-anchor="end" font-weight="normal" fill="#222" stroke="#222" stroke-width="0.2">8</text>
<text transform="translate(395.30 56.74) scale(0.8 1)" font-size="5.3" text-anchor="end" font-weight="normal" fill="#222" stroke="#222" stroke-width="0.2">10</text>
<text transform="translate(395.30 35.97) scale(0.8 1)" font-size="5.3" text-anchor="end" font-weight="normal" fill="#222" stroke="#222" stroke-width="0.2">12</text>
<text transform="translate(395.30 15.20) scale(0.8 1)" font-size="5.3" text-anchor="end" font-weight="normal" fill="#222" stroke="#222" stroke-width="0.2">14</text>
<text transform="translate(398.90 12.10) scale(0.85 1)" font-size="5.2" text-anchor="start" font-weight="normal" fill="#2a2a2a" stroke="#2a2a2a" stroke-width="0.25">x 10<tspan font-size="3.8" dy="-2.4" dx="-0.5">4</tspan></text>
<text transform="translate(469.40 11.00) scale(0.76 1)" font-size="6.2" text-anchor="middle" font-weight="bold" fill="#111" stroke="#111" stroke-width="0.15">F3</text>
<text transform="translate(469.50 177.98) scale(0.78 1)" font-size="8.4" text-anchor="middle" font-weight="normal" fill="#262626" stroke="#262626" stroke-width="0.32">Iterations</text>
<text transform="translate(388.20 86.40) rotate(-90) scale(1 0.8)" font-size="8.4" text-anchor="middle" font-weight="normal" fill="#262626" stroke="#262626" stroke-width="0.32">Fitness value</text>
<path d="M397.70 158.80L541.90 158.80" fill="none" stroke="#ff0000" stroke-width="1.15" stroke-linejoin="round"/>
<path d="M397.70 86.10L398.57 138.03L399.36 138.03L400.01 146.34L400.64 146.34L401.16 151.53L403.22 151.53L404.91 154.65L407.29 154.65L409.24 157.76L410.82 157.76L412.12 158.49L413.71 158.49L415.00 158.80L541.90 158.80" fill="none" stroke="#000000" stroke-width="0.95" stroke-linejoin="round"/>
<path d="M397.70 24.82L398.57 75.71L399.68 75.71L400.58 101.68L401.38 101.68L402.03 112.06L402.82 112.06L403.47 119.33L404.26 119.33L404.91 120.37L405.70 120.37L406.35 127.64L407.94 127.64L409.24 135.95L410.82 135.95L412.12 140.11L413.71 140.11L415.00 143.22L417.38 143.22L419.33 144.78L420.92 144.78L422.21 147.90L424.59 147.90L426.54 148.41L428.13 148.41L429.42 150.49L432.60 150.49L435.19 151.53L438.36 151.53L440.96 152.57L444.13 152.57L446.73 153.61L451.49 153.61L455.38 154.13L457.76 154.13L459.71 156.72L462.09 156.72L464.03 157.24L467.20 157.24L469.80 157.76L477.73 157.76L484.22 158.28L515.94 158.28L541.90 158.49" fill="none" stroke="#0000ff" stroke-width="1.2" stroke-linejoin="round"/>
<path d="M397.70 54.94L398.57 91.29L399.68 91.29L400.58 117.26L401.38 117.26L402.03 125.57L403.61 125.57L404.91 129.72L406.50 129.72L407.79 135.95L409.38 135.95L410.68 141.14L411.47 141.14L412.12 142.18L413.71 142.18L415.00 144.26L418.18 144.26L420.77 146.34L422.36 146.34L423.66 149.45L425.24 149.45L426.54 152.57L428.13 152.57L429.42 155.68L432.60 155.68L435.19 156.72L438.36 156.72L440.96 157.24L448.89 157.24L455.38 157.76L502.97 157.76L541.90 158.49" fill="none" stroke="#00ffff" stroke-width="1.25" stroke-linejoin="round"/>
<path d="M397.70 86.10L398.49 86.10L399.14 117.26L399.94 117.26L400.58 135.95L402.17 135.95L403.47 140.11L405.05 140.11L406.35 143.22L407.94 143.22L409.24 145.30L410.35 145.30L411.25 148.41L412.12 149.97L413.71 149.97L415.00 151.53L416.59 151.53L417.89 154.65L419.47 154.65L420.77 155.68L423.94 155.68L426.54 157.24L434.47 157.24L440.96 158.28L496.48 158.28L541.90 158.80" fill="none" stroke="#ff00ff" stroke-width="1.25" stroke-linejoin="round"/>
<path d="M397.70 18.59L398.28 86.10L399.14 127.64L399.94 127.64L400.58 150.49L402.17 150.49L403.47 151.53L405.05 151.53L406.35 154.13L407.94 154.13L409.24 155.17L410.82 155.17L412.12 155.68L420.05 155.68L426.54 156.20L442.40 156.20L455.38 157.24L471.24 157.24L484.22 157.76L515.94 157.76L541.90 157.97" fill="none" stroke="#000000" stroke-width="1.35" stroke-linejoin="round"/>
<path d="M395.20 161.12L400.20 161.12L397.70 155.90Z" fill="none" stroke="#ff0000" stroke-width="0.9"/>
<path d="M409.62 161.12L414.62 161.12L412.12 155.90Z" fill="none" stroke="#ff0000" stroke-width="0.9"/>
<path d="M424.04 161.12L429.04 161.12L426.54 155.90Z" fill="none" stroke="#ff0000" stroke-width="0.9"/>
<path d="M438.46 161.12L443.46 161.12L440.96 155.90Z" fill="none" stroke="#ff0000" stroke-width="0.9"/>
<path d="M452.88 161.12L457.88 161.12L455.38 155.90Z" fill="none" stroke="#ff0000" stroke-width="0.9"/>
<path d="M467.30 161.12L472.30 161.12L469.80 155.90Z" fill="none" stroke="#ff0000" stroke-width="0.9"/>
<path d="M481.72 161.12L486.72 161.12L484.22 155.90Z" fill="none" stroke="#ff0000" stroke-width="0.9"/>
<path d="M496.14 161.12L501.14 161.12L498.64 155.90Z" fill="none" stroke="#ff0000" stroke-width="0.9"/>
<path d="M510.56 161.12L515.56 161.12L513.06 155.90Z" fill="none" stroke="#ff0000" stroke-width="0.9"/>
<path d="M524.98 161.12L529.98 161.12L527.48 155.90Z" fill="none" stroke="#ff0000" stroke-width="0.9"/>
<ellipse cx="397.70" cy="86.10" rx="1.75" ry="2.30" fill="none" stroke="#000000" stroke-width="0.9"/>
<ellipse cx="412.12" cy="158.49" rx="1.75" ry="2.30" fill="none" stroke="#000000" stroke-width="0.9"/>
<ellipse cx="426.54" cy="158.80" rx="1.75" ry="2.30" fill="none" stroke="#000000" stroke-width="0.9"/>
<ellipse cx="440.96" cy="158.80" rx="1.75" ry="2.30" fill="none" stroke="#000000" stroke-width="0.9"/>
<ellipse cx="455.38" cy="158.80" rx="1.75" ry="2.30" fill="none" stroke="#000000" stroke-width="0.9"/>
<ellipse cx="469.80" cy="158.80" rx="1.75" ry="2.30" fill="none" stroke="#000000" stroke-width="0.9"/>
<ellipse cx="484.22" cy="158.80" rx="1.75" ry="2.30" fill="none" stroke="#000000" stroke-width="0.9"/>
<ellipse cx="498.64" cy="158.80" rx="1.75" ry="2.30" fill="none" stroke="#000000" stroke-width="0.9"/>
<ellipse cx="513.06" cy="158.80" rx="1.75" ry="2.30" fill="none" stroke="#000000" stroke-width="0.9"/>
<ellipse cx="527.48" cy="158.80" rx="1.75" ry="2.30" fill="none" stroke="#000000" stroke-width="0.9"/>
<path d="M395.80 24.82L397.70 21.42L399.60 24.82L397.70 28.22Z" fill="none" stroke="#0000ff" stroke-width="0.9"/>
<path d="M410.22 140.11L412.12 136.71L414.02 140.11L412.12 143.51Z" fill="none" stroke="#0000ff" stroke-width="0.9"/>
<path d="M424.64 148.41L426.54 145.01L428.44 148.41L426.54 151.81Z" fill="none" stroke="#0000ff" stroke-width="0.9"/>
<path d="M439.06 152.57L440.96 149.17L442.86 152.57L440.96 155.97Z" fill="none" stroke="#0000ff" stroke-width="0.9"/>
<path d="M453.48 154.13L455.38 150.73L457.28 154.13L455.38 157.53Z" fill="none" stroke="#0000ff" stroke-width="0.9"/>
<path d="M467.90 157.76L469.80 154.36L471.70 157.76L469.80 161.16Z" fill="none" stroke="#0000ff" stroke-width="0.9"/>
<path d="M482.32 158.28L484.22 154.88L486.12 158.28L484.22 161.68Z" fill="none" stroke="#0000ff" stroke-width="0.9"/>
<path d="M496.74 158.33L498.64 154.93L500.54 158.33L498.64 161.73Z" fill="none" stroke="#0000ff" stroke-width="0.9"/>
<path d="M511.16 158.38L513.06 154.98L514.96 158.38L513.06 161.78Z" fill="none" stroke="#0000ff" stroke-width="0.9"/>
<path d="M525.58 158.44L527.48 155.04L529.38 158.44L527.48 161.84Z" fill="none" stroke="#0000ff" stroke-width="0.9"/>
<rect x="396.20" y="52.99" width="3.00" height="3.90" fill="none" stroke="#00ffff" stroke-width="0.9"/>
<rect x="410.62" y="140.23" width="3.00" height="3.90" fill="none" stroke="#00ffff" stroke-width="0.9"/>
<rect x="425.04" y="150.62" width="3.00" height="3.90" fill="none" stroke="#00ffff" stroke-width="0.9"/>
<rect x="439.46" y="155.29" width="3.00" height="3.90" fill="none" stroke="#00ffff" stroke-width="0.9"/>
<rect x="453.88" y="155.81" width="3.00" height="3.90" fill="none" stroke="#00ffff" stroke-width="0.9"/>
<rect x="468.30" y="155.93" width="3.00" height="3.90" fill="none" stroke="#00ffff" stroke-width="0.9"/>
<rect x="482.72" y="156.05" width="3.00" height="3.90" fill="none" stroke="#00ffff" stroke-width="0.9"/>
<rect x="497.14" y="156.17" width="3.00" height="3.90" fill="none" stroke="#00ffff" stroke-width="0.9"/>
<rect x="511.56" y="156.30" width="3.00" height="3.90" fill="none" stroke="#00ffff" stroke-width="0.9"/>
<rect x="525.98" y="156.42" width="3.00" height="3.90" fill="none" stroke="#00ffff" stroke-width="0.9"/>
<path d="M397.70 82.98L398.35 85.09L400.32 85.13L398.75 86.49L399.32 88.63L397.70 87.35L396.08 88.63L396.65 86.49L395.08 85.13L397.05 85.09Z" fill="#ff00ff" stroke="#ff00ff" stroke-width="0.5"/>
<path d="M412.12 146.85L412.77 148.96L414.74 149.01L413.17 150.36L413.74 152.50L412.12 151.22L410.50 152.50L411.07 150.36L409.50 149.01L411.47 148.96Z" fill="#ff00ff" stroke="#ff00ff" stroke-width="0.5"/>
<path d="M426.54 154.12L427.19 156.23L429.16 156.28L427.59 157.63L428.16 159.77L426.54 158.49L424.92 159.77L425.49 157.63L423.92 156.28L425.89 156.23Z" fill="#ff00ff" stroke="#ff00ff" stroke-width="0.5"/>
<path d="M440.96 155.16L441.61 157.27L443.58 157.32L442.01 158.67L442.58 160.81L440.96 159.53L439.34 160.81L439.91 158.67L438.34 157.32L440.31 157.27Z" fill="#ff00ff" stroke="#ff00ff" stroke-width="0.5"/>
<path d="M455.38 155.23L456.03 157.34L458.00 157.39L456.43 158.74L457.00 160.88L455.38 159.60L453.76 160.88L454.33 158.74L452.76 157.39L454.73 157.34Z" fill="#ff00ff" stroke="#ff00ff" stroke-width="0.5"/>
<path d="M469.80 155.30L470.45 157.42L472.42 157.46L470.85 158.82L471.42 160.96L469.80 159.68L468.18 160.96L468.75 158.82L467.18 157.46L469.15 157.42Z" fill="#ff00ff" stroke="#ff00ff" stroke-width="0.5"/>
<path d="M484.22 155.38L484.87 157.49L486.84 157.54L485.27 158.89L485.84 161.03L484.22 159.75L482.60 161.03L483.17 158.89L481.60 157.54L483.57 157.49Z" fill="#ff00ff" stroke="#ff00ff" stroke-width="0.5"/>
<path d="M498.64 155.45L499.29 157.57L501.26 157.61L499.69 158.96L500.26 161.11L498.64 159.83L497.02 161.11L497.59 158.96L496.02 157.61L497.99 157.57Z" fill="#ff00ff" stroke="#ff00ff" stroke-width="0.5"/>
<path d="M513.06 155.53L513.71 157.64L515.68 157.69L514.11 159.04L514.68 161.18L513.06 159.90L511.44 161.18L512.01 159.04L510.44 157.69L512.41 157.64Z" fill="#ff00ff" stroke="#ff00ff" stroke-width="0.5"/>
<path d="M527.48 155.60L528.13 157.71L530.10 157.76L528.53 159.11L529.10 161.25L527.48 159.98L525.86 161.25L526.43 159.11L524.86 157.76L526.83 157.71Z" fill="#ff00ff" stroke="#ff00ff" stroke-width="0.5"/>
<path d="M396.10 18.59L397.70 16.29L399.30 18.59L397.70 20.89Z" fill="#000000" stroke="#000000" stroke-width="0.5"/>
<path d="M410.52 155.68L412.12 153.38L413.72 155.68L412.12 157.98Z" fill="#000000" stroke="#000000" stroke-width="0.5"/>
<path d="M424.94 156.20L426.54 153.90L428.14 156.20L426.54 158.50Z" fill="#000000" stroke="#000000" stroke-width="0.5"/>
<path d="M439.36 156.72L440.96 154.42L442.56 156.72L440.96 159.02Z" fill="#000000" stroke="#000000" stroke-width="0.5"/>
<path d="M453.78 157.24L455.38 154.94L456.98 157.24L455.38 159.54Z" fill="#000000" stroke="#000000" stroke-width="0.5"/>
<path d="M468.20 157.50L469.80 155.20L471.40 157.50L469.80 159.80Z" fill="#000000" stroke="#000000" stroke-width="0.5"/>
<path d="M482.62 157.76L484.22 155.46L485.82 157.76L484.22 160.06Z" fill="#000000" stroke="#000000" stroke-width="0.5"/>
<path d="M497.04 157.81L498.64 155.51L500.24 157.81L498.64 160.11Z" fill="#000000" stroke="#000000" stroke-width="0.5"/>
<path d="M511.46 157.87L513.06 155.57L514.66 157.87L513.06 160.17Z" fill="#000000" stroke="#000000" stroke-width="0.5"/>
<path d="M525.88 157.92L527.48 155.62L529.08 157.92L527.48 160.22Z" fill="#000000" stroke="#000000" stroke-width="0.5"/>
<rect x="505.30" y="18.30" width="32.8" height="43.3" fill="#fff" stroke="#444" stroke-width="0.6"/>
<path d="M506.50 23.00h13.2" stroke="#ff0000" stroke-width="1.3"/>
<path d="M510.60 25.32L515.60 25.32L513.10 20.10Z" fill="none" stroke="#ff0000" stroke-width="0.9"/>
<text transform="translate(521.00 24.80) scale(0.8 1)" font-size="5.2" text-anchor="start" font-weight="bold" fill="#111" stroke="#111" stroke-width="0.1">MSGWO</text>
<path d="M506.50 30.05h13.2" stroke="#000000" stroke-width="1.3"/>
<ellipse cx="513.10" cy="30.05" rx="1.75" ry="2.30" fill="none" stroke="#000000" stroke-width="0.9"/>
<text transform="translate(521.00 31.85) scale(0.8 1)" font-size="5.2" text-anchor="start" font-weight="bold" fill="#111" stroke="#111" stroke-width="0.1">GWO</text>
<path d="M506.50 37.10h13.2" stroke="#0000ff" stroke-width="1.3"/>
<path d="M511.20 37.10L513.10 33.70L515.00 37.10L513.10 40.50Z" fill="none" stroke="#0000ff" stroke-width="0.9"/>
<text transform="translate(521.00 38.90) scale(0.8 1)" font-size="5.2" text-anchor="start" font-weight="bold" fill="#111" stroke="#111" stroke-width="0.1">MEGWO</text>
<path d="M506.50 44.15h13.2" stroke="#00ffff" stroke-width="1.3"/>
<rect x="511.60" y="42.20" width="3.00" height="3.90" fill="none" stroke="#00ffff" stroke-width="0.9"/>
<text transform="translate(521.00 45.95) scale(0.8 1)" font-size="5.2" text-anchor="start" font-weight="bold" fill="#111" stroke="#111" stroke-width="0.1">mGWO</text>
<path d="M506.50 51.20h13.2" stroke="#ff00ff" stroke-width="1.3"/>
<path d="M513.10 48.08L513.75 50.19L515.72 50.23L514.15 51.59L514.72 53.73L513.10 52.45L511.48 53.73L512.05 51.59L510.48 50.23L512.45 50.19Z" fill="#ff00ff" stroke="#ff00ff" stroke-width="0.5"/>
<text transform="translate(521.00 53.00) scale(0.8 1)" font-size="5.2" text-anchor="start" font-weight="bold" fill="#111" stroke="#111" stroke-width="0.1">IGWO</text>
<path d="M506.50 58.25h13.2" stroke="#000000" stroke-width="1.3"/>
<path d="M511.50 58.25L513.10 55.95L514.70 58.25L513.10 60.55Z" fill="#000000" stroke="#000000" stroke-width="0.5"/>
<text transform="translate(521.00 60.05) scale(0.8 1)" font-size="5.2" text-anchor="start" font-weight="bold" fill="#111" stroke="#111" stroke-width="0.1">MPSO</text>
<path d="M38.03 195.60V342.80M52.46 195.60V342.80M66.89 195.60V342.80M81.32 195.60V342.80M95.75 195.60V342.80M110.18 195.60V342.80M124.61 195.60V342.80M139.04 195.60V342.80M153.47 195.60V342.80M23.60 326.44H167.90M23.60 310.09H167.90M23.60 293.73H167.90M23.60 277.38H167.90M23.60 261.02H167.90M23.60 244.67H167.90M23.60 228.31H167.90M23.60 211.96H167.90" stroke="#e8e8e8" stroke-width="0.55" fill="none"/>
<path d="M23.60 342.80v-1.5M23.60 195.60v1.5M38.03 342.80v-1.5M38.03 195.60v1.5M52.46 342.80v-1.5M52.46 195.60v1.5M66.89 342.80v-1.5M66.89 195.60v1.5M81.32 342.80v-1.5M81.32 195.60v1.5M95.75 342.80v-1.5M95.75 195.60v1.5M110.18 342.80v-1.5M110.18 195.60v1.5M124.61 342.80v-1.5M124.61 195.60v1.5M139.04 342.80v-1.5M139.04 195.60v1.5M153.47 342.80v-1.5M153.47 195.60v1.5M167.90 342.80v-1.5M167.90 195.60v1.5M23.60 342.80h1.5M167.90 342.80h-1.5M23.60 326.44h1.5M167.90 326.44h-1.5M23.60 310.09h1.5M167.90 310.09h-1.5M23.60 293.73h1.5M167.90 293.73h-1.5M23.60 277.38h1.5M167.90 277.38h-1.5M23.60 261.02h1.5M167.90 261.02h-1.5M23.60 244.67h1.5M167.90 244.67h-1.5M23.60 228.31h1.5M167.90 228.31h-1.5M23.60 211.96h1.5M167.90 211.96h-1.5M23.60 195.60h1.5M167.90 195.60h-1.5" stroke="#555" stroke-width="0.5" fill="none"/>
<rect x="23.60" y="195.60" width="144.30" height="147.20" fill="none" stroke="#555" stroke-width="0.65"/>
<text transform="translate(23.60 350.90) scale(0.8 1)" font-size="5.3" text-anchor="middle" font-weight="normal" fill="#222" stroke="#222" stroke-width="0.2">0</text>
<text transform="translate(38.03 350.90) scale(0.8 1)" font-size="5.3" text-anchor="middle" font-weight="normal" fill="#222" stroke="#222" stroke-width="0.2">50</text>
<text transform="translate(52.46 350.90) scale(0.8 1)" font-size="5.3" text-anchor="middle" font-weight="normal" fill="#222" stroke="#222" stroke-width="0.2">100</text>
<text transform="translate(66.89 350.90) scale(0.8 1)" font-size="5.3" text-anchor="middle" font-weight="normal" fill="#222" stroke="#222" stroke-width="0.2">150</text>
<text transform="translate(81.32 350.90) scale(0.8 1)" font-size="5.3" text-anchor="middle" font-weight="normal" fill="#222" stroke="#222" stroke-width="0.2">200</text>
<text transform="translate(95.75 350.90) scale(0.8 1)" font-size="5.3" text-anchor="middle" font-weight="normal" fill="#222" stroke="#222" stroke-width="0.2">250</text>
<text transform="translate(110.18 350.90) scale(0.8 1)" font-size="5.3" text-anchor="middle" font-weight="normal" fill="#222" stroke="#222" stroke-width="0.2">300</text>
<text transform="translate(124.61 350.90) scale(0.8 1)" font-size="5.3" text-anchor="middle" font-weight="normal" fill="#222" stroke="#222" stroke-width="0.2">350</text>
<text transform="translate(139.04 350.90) scale(0.8 1)" font-size="5.3" text-anchor="middle" font-weight="normal" fill="#222" stroke="#222" stroke-width="0.2">400</text>
<text transform="translate(153.47 350.90) scale(0.8 1)" font-size="5.3" text-anchor="middle" font-weight="normal" fill="#222" stroke="#222" stroke-width="0.2">450</text>
<text transform="translate(167.90 350.90) scale(0.8 1)" font-size="5.3" text-anchor="middle" font-weight="normal" fill="#222" stroke="#222" stroke-width="0.2">500</text>
<text transform="translate(21.20 344.60) scale(0.8 1)" font-size="5.3" text-anchor="end" font-weight="normal" fill="#222" stroke="#222" stroke-width="0.2">0</text>
<text transform="translate(21.20 328.24) scale(0.8 1)" font-size="5.3" text-anchor="end" font-weight="normal" fill="#222" stroke="#222" stroke-width="0.2">10</text>
<text transform="translate(21.20 311.89) scale(0.8 1)" font-size="5.3" text-anchor="end" font-weight="normal" fill="#222" stroke="#222" stroke-width="0.2">20</text>
<text transform="translate(21.20 295.53) scale(0.8 1)" font-size="5.3" text-anchor="end" font-weight="normal" fill="#222" stroke="#222" stroke-width="0.2">30</text>
<text transform="translate(21.20 279.18) scale(0.8 1)" font-size="5.3" text-anchor="end" font-weight="normal" fill="#222" stroke="#222" stroke-width="0.2">40</text>
<text transform="translate(21.20 262.82) scale(0.8 1)" font-size="5.3" text-anchor="end" font-weight="normal" fill="#222" stroke="#222" stroke-width="0.2">50</text>
<text transform="translate(21.20 246.47) scale(0.8 1)" font-size="5.3" text-anchor="end" font-weight="normal" fill="#222" stroke="#222" stroke-width="0.2">60</text>
<text transform="translate(21.20 230.11) scale(0.8 1)" font-size="5.3" text-anchor="end" font-weight="normal" fill="#222" stroke="#222" stroke-width="0.2">70</text>
<text transform="translate(21.20 213.76) scale(0.8 1)" font-size="5.3" text-anchor="end" font-weight="normal" fill="#222" stroke="#222" stroke-width="0.2">80</text>
<text transform="translate(21.20 197.40) scale(0.8 1)" font-size="5.3" text-anchor="end" font-weight="normal" fill="#222" stroke="#222" stroke-width="0.2">90</text>
<text transform="translate(95.35 193.20) scale(0.76 1)" font-size="6.2" text-anchor="middle" font-weight="bold" fill="#111" stroke="#111" stroke-width="0.15">F4</text>
<text transform="translate(95.45 361.86) scale(0.78 1)" font-size="8.4" text-anchor="middle" font-weight="normal" fill="#262626" stroke="#262626" stroke-width="0.32">Iterations</text>
<text transform="translate(14.70 269.50) rotate(-90) scale(1 0.8)" font-size="8.4" text-anchor="middle" font-weight="normal" fill="#262626" stroke="#262626" stroke-width="0.32">Fitness value</text>
<path d="M23.60 342.80L167.90 342.80" fill="none" stroke="#ff0000" stroke-width="1.15" stroke-linejoin="round"/>
<path d="M23.60 198.87L24.32 198.87L25.04 225.04L25.91 225.04L26.77 244.67L27.50 244.67L28.22 261.02L28.79 301.91L29.37 310.09L30.82 310.09L32.26 326.44L33.70 326.44L35.14 336.26L36.59 336.26L38.03 341.16L39.47 341.16L40.92 342.80L167.90 342.80" fill="none" stroke="#000000" stroke-width="0.95" stroke-linejoin="round"/>
<path d="M23.60 203.78L24.18 257.75L25.33 257.75L26.49 277.38L27.93 277.38L29.37 298.64L30.09 298.64L30.82 303.55L31.54 303.55L32.26 313.36L32.98 313.36L33.70 316.63L34.42 316.63L35.14 324.81L36.59 324.81L38.03 328.90L38.75 328.90L39.47 331.35L40.92 331.35L42.36 334.62L43.08 334.62L43.80 336.26L45.25 336.26L46.69 337.08L49.57 337.08L52.46 337.89L53.90 337.89L55.35 339.53L58.23 339.53L61.12 340.35L66.89 340.35L67.61 340.35L68.33 341.98L70.50 341.98L72.66 342.80L167.90 342.80" fill="none" stroke="#0000ff" stroke-width="1.2" stroke-linejoin="round"/>
<path d="M23.60 195.60L24.18 203.78L29.95 203.78L30.82 223.40L34.57 223.40L35.14 223.40L35.72 233.22L36.59 233.22L37.45 252.84L38.03 265.93L38.75 265.93L39.47 274.11L40.92 274.11L42.36 282.28L43.37 282.28L44.38 293.73L45.25 310.09L45.97 310.09L46.69 321.54L48.13 321.54L49.57 328.08L51.02 328.08L52.46 332.99L53.90 332.99L55.35 336.26L58.23 336.26L61.12 339.53L64.00 339.53L66.89 341.16L69.78 341.16L72.66 342.31L76.99 342.31L81.32 342.80L167.90 342.80" fill="none" stroke="#00ffff" stroke-width="1.25" stroke-linejoin="round"/>
<path d="M23.60 202.14L25.04 202.14L26.49 277.38L27.21 277.38L27.93 298.64L28.65 298.64L29.37 303.55L30.09 303.55L30.82 315.00L31.54 315.00L32.26 321.54L33.70 321.54L35.14 331.35L36.59 331.35L38.03 336.26L38.75 336.26L39.47 340.35L40.92 340.35L42.36 342.31L44.52 342.31L46.69 342.80L167.90 342.80" fill="none" stroke="#ff00ff" stroke-width="1.25" stroke-linejoin="round"/>
<path d="M23.60 198.87L24.32 198.87L25.04 228.31L25.76 228.31L26.49 269.20L27.21 269.20L27.93 298.64L28.65 298.64L29.37 300.28L30.82 300.28L32.26 303.55L33.70 303.55L35.14 307.64L36.59 307.64L38.03 311.72L39.47 311.72L40.92 315.81L42.36 315.81L43.80 319.08L45.25 319.08L46.69 321.54L48.13 321.54L49.57 323.99L51.02 323.99L52.46 326.44L53.90 326.44L55.35 328.08L56.79 328.08L58.23 328.90L59.68 328.90L61.12 331.35L64.00 331.35L66.89 332.50L68.33 332.50L69.78 333.80L71.22 333.80L72.66 336.26L74.11 336.26L75.55 337.89L78.43 337.89L81.32 339.53L84.21 339.53L87.09 340.35L91.42 340.35L95.75 341.98L98.64 341.98L101.52 342.80L167.90 342.80" fill="none" stroke="#000000" stroke-width="1.35" stroke-linejoin="round"/>
<path d="M21.10 345.12L26.10 345.12L23.60 339.90Z" fill="none" stroke="#ff0000" stroke-width="0.9"/>
<path d="M35.53 345.12L40.53 345.12L38.03 339.90Z" fill="none" stroke="#ff0000" stroke-width="0.9"/>
<path d="M49.96 345.12L54.96 345.12L52.46 339.90Z" fill="none" stroke="#ff0000" stroke-width="0.9"/>
<path d="M64.39 345.12L69.39 345.12L66.89 339.90Z" fill="none" stroke="#ff0000" stroke-width="0.9"/>
<path d="M78.82 345.12L83.82 345.12L81.32 339.90Z" fill="none" stroke="#ff0000" stroke-width="0.9"/>
<path d="M93.25 345.12L98.25 345.12L95.75 339.90Z" fill="none" stroke="#ff0000" stroke-width="0.9"/>
<path d="M107.68 345.12L112.68 345.12L110.18 339.90Z" fill="none" stroke="#ff0000" stroke-width="0.9"/>
<path d="M122.11 345.12L127.11 345.12L124.61 339.90Z" fill="none" stroke="#ff0000" stroke-width="0.9"/>
<path d="M136.54 345.12L141.54 345.12L139.04 339.90Z" fill="none" stroke="#ff0000" stroke-width="0.9"/>
<path d="M150.97 345.12L155.97 345.12L153.47 339.90Z" fill="none" stroke="#ff0000" stroke-width="0.9"/>
<ellipse cx="23.60" cy="198.87" rx="1.75" ry="2.30" fill="none" stroke="#000000" stroke-width="0.9"/>
<ellipse cx="38.03" cy="341.16" rx="1.75" ry="2.30" fill="none" stroke="#000000" stroke-width="0.9"/>
<ellipse cx="52.46" cy="342.80" rx="1.75" ry="2.30" fill="none" stroke="#000000" stroke-width="0.9"/>
<ellipse cx="66.89" cy="342.80" rx="1.75" ry="2.30" fill="none" stroke="#000000" stroke-width="0.9"/>
<ellipse cx="81.32" cy="342.80" rx="1.75" ry="2.30" fill="none" stroke="#000000" stroke-width="0.9"/>
<ellipse cx="95.75" cy="342.80" rx="1.75" ry="2.30" fill="none" stroke="#000000" stroke-width="0.9"/>
<ellipse cx="110.18" cy="342.80" rx="1.75" ry="2.30" fill="none" stroke="#000000" stroke-width="0.9"/>
<ellipse cx="124.61" cy="342.80" rx="1.75" ry="2.30" fill="none" stroke="#000000" stroke-width="0.9"/>
<ellipse cx="139.04" cy="342.80" rx="1.75" ry="2.30" fill="none" stroke="#000000" stroke-width="0.9"/>
<ellipse cx="153.47" cy="342.80" rx="1.75" ry="2.30" fill="none" stroke="#000000" stroke-width="0.9"/>
<path d="M21.70 203.78L23.60 200.38L25.50 203.78L23.60 207.18Z" fill="none" stroke="#0000ff" stroke-width="0.9"/>
<path d="M36.13 328.90L38.03 325.50L39.93 328.90L38.03 332.30Z" fill="none" stroke="#0000ff" stroke-width="0.9"/>
<path d="M50.56 337.89L52.46 334.49L54.36 337.89L52.46 341.29Z" fill="none" stroke="#0000ff" stroke-width="0.9"/>
<path d="M64.99 340.35L66.89 336.95L68.79 340.35L66.89 343.75Z" fill="none" stroke="#0000ff" stroke-width="0.9"/>
<path d="M79.42 342.80L81.32 339.40L83.22 342.80L81.32 346.20Z" fill="none" stroke="#0000ff" stroke-width="0.9"/>
<path d="M93.85 342.80L95.75 339.40L97.65 342.80L95.75 346.20Z" fill="none" stroke="#0000ff" stroke-width="0.9"/>
<path d="M108.28 342.80L110.18 339.40L112.08 342.80L110.18 346.20Z" fill="none" stroke="#0000ff" stroke-width="0.9"/>
<path d="M122.71 342.80L124.61 339.40L126.51 342.80L124.61 346.20Z" fill="none" stroke="#0000ff" stroke-width="0.9"/>
<path d="M137.14 342.80L139.04 339.40L140.94 342.80L139.04 346.20Z" fill="none" stroke="#0000ff" stroke-width="0.9"/>
<path d="M151.57 342.80L153.47 339.40L155.37 342.80L153.47 346.20Z" fill="none" stroke="#0000ff" stroke-width="0.9"/>
<rect x="36.53" y="263.98" width="3.00" height="3.90" fill="none" stroke="#00ffff" stroke-width="0.9"/>
<rect x="50.96" y="331.04" width="3.00" height="3.90" fill="none" stroke="#00ffff" stroke-width="0.9"/>
<rect x="65.39" y="339.21" width="3.00" height="3.90" fill="none" stroke="#00ffff" stroke-width="0.9"/>
<rect x="79.82" y="340.85" width="3.00" height="3.90" fill="none" stroke="#00ffff" stroke-width="0.9"/>
<rect x="94.25" y="340.85" width="3.00" height="3.90" fill="none" stroke="#00ffff" stroke-width="0.9"/>
<rect x="108.68" y="340.85" width="3.00" height="3.90" fill="none" stroke="#00ffff" stroke-width="0.9"/>
<rect x="123.11" y="340.85" width="3.00" height="3.90" fill="none" stroke="#00ffff" stroke-width="0.9"/>
<rect x="137.54" y="340.85" width="3.00" height="3.90" fill="none" stroke="#00ffff" stroke-width="0.9"/>
<rect x="151.97" y="340.85" width="3.00" height="3.90" fill="none" stroke="#00ffff" stroke-width="0.9"/>
<path d="M23.60 199.02L24.25 201.13L26.22 201.18L24.65 202.53L25.22 204.67L23.60 203.39L21.98 204.67L22.55 202.53L20.98 201.18L22.95 201.13Z" fill="#ff00ff" stroke="#ff00ff" stroke-width="0.5"/>
<path d="M38.03 333.13L38.68 335.25L40.65 335.29L39.08 336.64L39.65 338.79L38.03 337.51L36.41 338.79L36.98 336.64L35.41 335.29L37.38 335.25Z" fill="#ff00ff" stroke="#ff00ff" stroke-width="0.5"/>
<path d="M52.46 339.68L53.11 341.79L55.08 341.83L53.51 343.19L54.08 345.33L52.46 344.05L50.84 345.33L51.41 343.19L49.84 341.83L51.81 341.79Z" fill="#ff00ff" stroke="#ff00ff" stroke-width="0.5"/>
<path d="M66.89 339.68L67.54 341.79L69.51 341.83L67.94 343.19L68.51 345.33L66.89 344.05L65.27 345.33L65.84 343.19L64.27 341.83L66.24 341.79Z" fill="#ff00ff" stroke="#ff00ff" stroke-width="0.5"/>
<path d="M81.32 339.68L81.97 341.79L83.94 341.83L82.37 343.19L82.94 345.33L81.32 344.05L79.70 345.33L80.27 343.19L78.70 341.83L80.67 341.79Z" fill="#ff00ff" stroke="#ff00ff" stroke-width="0.5"/>
<path d="M95.75 339.68L96.40 341.79L98.37 341.83L96.80 343.19L97.37 345.33L95.75 344.05L94.13 345.33L94.70 343.19L93.13 341.83L95.10 341.79Z" fill="#ff00ff" stroke="#ff00ff" stroke-width="0.5"/>
<path d="M110.18 339.68L110.83 341.79L112.80 341.83L111.23 343.19L111.80 345.33L110.18 344.05L108.56 345.33L109.13 343.19L107.56 341.83L109.53 341.79Z" fill="#ff00ff" stroke="#ff00ff" stroke-width="0.5"/>
<path d="M124.61 339.68L125.26 341.79L127.23 341.83L125.66 343.19L126.23 345.33L124.61 344.05L122.99 345.33L123.56 343.19L121.99 341.83L123.96 341.79Z" fill="#ff00ff" stroke="#ff00ff" stroke-width="0.5"/>
<path d="M139.04 339.68L139.69 341.79L141.66 341.83L140.09 343.19L140.66 345.33L139.04 344.05L137.42 345.33L137.99 343.19L136.42 341.83L138.39 341.79Z" fill="#ff00ff" stroke="#ff00ff" stroke-width="0.5"/>
<path d="M153.47 339.68L154.12 341.79L156.09 341.83L154.52 343.19L155.09 345.33L153.47 344.05L151.85 345.33L152.42 343.19L150.85 341.83L152.82 341.79Z" fill="#ff00ff" stroke="#ff00ff" stroke-width="0.5"/>
<path d="M22.00 198.87L23.60 196.57L25.20 198.87L23.60 201.17Z" fill="#000000" stroke="#000000" stroke-width="0.5"/>
<path d="M36.43 311.72L38.03 309.42L39.63 311.72L38.03 314.02Z" fill="#000000" stroke="#000000" stroke-width="0.5"/>
<path d="M50.86 326.44L52.46 324.14L54.06 326.44L52.46 328.74Z" fill="#000000" stroke="#000000" stroke-width="0.5"/>
<path d="M65.29 332.50L66.89 330.20L68.49 332.50L66.89 334.80Z" fill="#000000" stroke="#000000" stroke-width="0.5"/>
<path d="M79.72 339.53L81.32 337.23L82.92 339.53L81.32 341.83Z" fill="#000000" stroke="#000000" stroke-width="0.5"/>
<path d="M94.15 341.98L95.75 339.68L97.35 341.98L95.75 344.28Z" fill="#000000" stroke="#000000" stroke-width="0.5"/>
<path d="M108.58 342.80L110.18 340.50L111.78 342.80L110.18 345.10Z" fill="#000000" stroke="#000000" stroke-width="0.5"/>
<path d="M123.01 342.80L124.61 340.50L126.21 342.80L124.61 345.10Z" fill="#000000" stroke="#000000" stroke-width="0.5"/>
<path d="M137.44 342.80L139.04 340.50L140.64 342.80L139.04 345.10Z" fill="#000000" stroke="#000000" stroke-width="0.5"/>
<path d="M151.87 342.80L153.47 340.50L155.07 342.80L153.47 345.10Z" fill="#000000" stroke="#000000" stroke-width="0.5"/>
<rect x="131.30" y="200.50" width="32.8" height="43.3" fill="#fff" stroke="#444" stroke-width="0.6"/>
<path d="M132.50 205.20h13.2" stroke="#ff0000" stroke-width="1.3"/>
<path d="M136.60 207.52L141.60 207.52L139.10 202.30Z" fill="none" stroke="#ff0000" stroke-width="0.9"/>
<text transform="translate(147.00 207.00) scale(0.8 1)" font-size="5.2" text-anchor="start" font-weight="bold" fill="#111" stroke="#111" stroke-width="0.1">MSGWO</text>
<path d="M132.50 212.25h13.2" stroke="#000000" stroke-width="1.3"/>
<ellipse cx="139.10" cy="212.25" rx="1.75" ry="2.30" fill="none" stroke="#000000" stroke-width="0.9"/>
<text transform="translate(147.00 214.05) scale(0.8 1)" font-size="5.2" text-anchor="start" font-weight="bold" fill="#111" stroke="#111" stroke-width="0.1">GWO</text>
<path d="M132.50 219.30h13.2" stroke="#0000ff" stroke-width="1.3"/>
<path d="M137.20 219.30L139.10 215.90L141.00 219.30L139.10 222.70Z" fill="none" stroke="#0000ff" stroke-width="0.9"/>
<text transform="translate(147.00 221.10) scale(0.8 1)" font-size="5.2" text-anchor="start" font-weight="bold" fill="#111" stroke="#111" stroke-width="0.1">MEGWO</text>
<path d="M132.50 226.35h13.2" stroke="#00ffff" stroke-width="1.3"/>
<rect x="137.60" y="224.40" width="3.00" height="3.90" fill="none" stroke="#00ffff" stroke-width="0.9"/>
<text transform="translate(147.00 228.15) scale(0.8 1)" font-size="5.2" text-anchor="start" font-weight="bold" fill="#111" stroke="#111" stroke-width="0.1">mGWO</text>
<path d="M132.50 233.40h13.2" stroke="#ff00ff" stroke-width="1.3"/>
<path d="M139.10 230.27L139.75 232.39L141.72 232.43L140.15 233.79L140.72 235.93L139.10 234.65L137.48 235.93L138.05 233.79L136.48 232.43L138.45 232.39Z" fill="#ff00ff" stroke="#ff00ff" stroke-width="0.5"/>
<text transform="translate(147.00 235.20) scale(0.8 1)" font-size="5.2" text-anchor="start" font-weight="bold" fill="#111" stroke="#111" stroke-width="0.1">IGWO</text>
<path d="M132.50 240.45h13.2" stroke="#000000" stroke-width="1.3"/>
<path d="M137.50 240.45L139.10 238.15L140.70 240.45L139.10 242.75Z" fill="#000000" stroke="#000000" stroke-width="0.5"/>
<text transform="translate(147.00 242.25) scale(0.8 1)" font-size="5.2" text-anchor="start" font-weight="bold" fill="#111" stroke="#111" stroke-width="0.1">MPSO</text>
<path d="M225.11 195.60V342.80M239.52 195.60V342.80M253.93 195.60V342.80M268.34 195.60V342.80M282.75 195.60V342.80M297.16 195.60V342.80M311.57 195.60V342.80M325.98 195.60V342.80M340.39 195.60V342.80M210.70 318.27H354.80M210.70 293.73H354.80M210.70 269.20H354.80M210.70 244.67H354.80M210.70 220.13H354.80" stroke="#e8e8e8" stroke-width="0.55" fill="none"/>
<path d="M210.70 342.80v-1.5M210.70 195.60v1.5M225.11 342.80v-1.5M225.11 195.60v1.5M239.52 342.80v-1.5M239.52 195.60v1.5M253.93 342.80v-1.5M253.93 195.60v1.5M268.34 342.80v-1.5M268.34 195.60v1.5M282.75 342.80v-1.5M282.75 195.60v1.5M297.16 342.80v-1.5M297.16 195.60v1.5M311.57 342.80v-1.5M311.57 195.60v1.5M325.98 342.80v-1.5M325.98 195.60v1.5M340.39 342.80v-1.5M340.39 195.60v1.5M354.80 342.80v-1.5M354.80 195.60v1.5M210.70 342.80h1.5M354.80 342.80h-1.5M210.70 318.27h1.5M354.80 318.27h-1.5M210.70 293.73h1.5M354.80 293.73h-1.5M210.70 269.20h1.5M354.80 269.20h-1.5M210.70 244.67h1.5M354.80 244.67h-1.5M210.70 220.13h1.5M354.80 220.13h-1.5M210.70 195.60h1.5M354.80 195.60h-1.5" stroke="#555" stroke-width="0.5" fill="none"/>
<rect x="210.70" y="195.60" width="144.10" height="147.20" fill="none" stroke="#555" stroke-width="0.65"/>
<text transform="translate(210.70 350.90) scale(0.8 1)" font-size="5.3" text-anchor="middle" font-weight="normal" fill="#222" stroke="#222" stroke-width="0.2">0</text>
<text transform="translate(225.11 350.90) scale(0.8 1)" font-size="5.3" text-anchor="middle" font-weight="normal" fill="#222" stroke="#222" stroke-width="0.2">50</text>
<text transform="translate(239.52 350.90) scale(0.8 1)" font-size="5.3" text-anchor="middle" font-weight="normal" fill="#222" stroke="#222" stroke-width="0.2">100</text>
<text transform="translate(253.93 350.90) scale(0.8 1)" font-size="5.3" text-anchor="middle" font-weight="normal" fill="#222" stroke="#222" stroke-width="0.2">150</text>
<text transform="translate(268.34 350.90) scale(0.8 1)" font-size="5.3" text-anchor="middle" font-weight="normal" fill="#222" stroke="#222" stroke-width="0.2">200</text>
<text transform="translate(282.75 350.90) scale(0.8 1)" font-size="5.3" text-anchor="middle" font-weight="normal" fill="#222" stroke="#222" stroke-width="0.2">250</text>
<text transform="translate(297.16 350.90) scale(0.8 1)" font-size="5.3" text-anchor="middle" font-weight="normal" fill="#222" stroke="#222" stroke-width="0.2">300</text>
<text transform="translate(311.57 350.90) scale(0.8 1)" font-size="5.3" text-anchor="middle" font-weight="normal" fill="#222" stroke="#222" stroke-width="0.2">350</text>
<text transform="translate(325.98 350.90) scale(0.8 1)" font-size="5.3" text-anchor="middle" font-weight="normal" fill="#222" stroke="#222" stroke-width="0.2">400</text>
<text transform="translate(340.39 350.90) scale(0.8 1)" font-size="5.3" text-anchor="middle" font-weight="normal" fill="#222" stroke="#222" stroke-width="0.2">450</text>
<text transform="translate(354.80 350.90) scale(0.8 1)" font-size="5.3" text-anchor="middle" font-weight="normal" fill="#222" stroke="#222" stroke-width="0.2">500</text>
<text transform="translate(208.30 344.60) scale(0.8 1)" font-size="5.3" text-anchor="end" font-weight="normal" fill="#222" stroke="#222" stroke-width="0.2">0</text>
<text transform="translate(208.30 320.07) scale(0.8 1)" font-size="5.3" text-anchor="end" font-weight="normal" fill="#222" stroke="#222" stroke-width="0.2">0.5</text>
<text transform="translate(208.30 295.53) scale(0.8 1)" font-size="5.3" text-anchor="end" font-weight="normal" fill="#222" stroke="#222" stroke-width="0.2">1</text>
<text transform="translate(208.30 271.00) scale(0.8 1)" font-size="5.3" text-anchor="end" font-weight="normal" fill="#222" stroke="#222" stroke-width="0.2">1.5</text>
<text transform="translate(208.30 246.47) scale(0.8 1)" font-size="5.3" text-anchor="end" font-weight="normal" fill="#222" stroke="#222" stroke-width="0.2">2</text>
<text transform="translate(208.30 221.93) scale(0.8 1)" font-size="5.3" text-anchor="end" font-weight="normal" fill="#222" stroke="#222" stroke-width="0.2">2.5</text>
<text transform="translate(208.30 197.40) scale(0.8 1)" font-size="5.3" text-anchor="end" font-weight="normal" fill="#222" stroke="#222" stroke-width="0.2">3</text>
<text transform="translate(211.90 194.30) scale(0.85 1)" font-size="5.2" text-anchor="start" font-weight="normal" fill="#2a2a2a" stroke="#2a2a2a" stroke-width="0.25">x 10<tspan font-size="3.8" dy="-2.4" dx="-0.5">8</tspan></text>
<text transform="translate(282.35 193.20) scale(0.76 1)" font-size="6.2" text-anchor="middle" font-weight="bold" fill="#111" stroke="#111" stroke-width="0.15">F5</text>
<text transform="translate(282.45 361.86) scale(0.78 1)" font-size="8.4" text-anchor="middle" font-weight="normal" fill="#262626" stroke="#262626" stroke-width="0.32">Iterations</text>
<text transform="translate(199.60 269.50) rotate(-90) scale(1 0.8)" font-size="8.4" text-anchor="middle" font-weight="normal" fill="#262626" stroke="#262626" stroke-width="0.32">Fitness value</text>
<path d="M210.70 342.80L354.80 342.80" fill="none" stroke="#ff0000" stroke-width="1.15" stroke-linejoin="round"/>
<path d="M210.70 225.04L210.99 318.27L211.56 342.80L354.80 342.80" fill="none" stroke="#000000" stroke-width="0.95" stroke-linejoin="round"/>
<path d="M210.70 265.77L211.28 303.55L211.85 328.08L213.01 340.35L214.73 342.80L354.80 342.80" fill="none" stroke="#0000ff" stroke-width="1.2" stroke-linejoin="round"/>
<path d="M210.70 216.21L211.56 293.73L212.14 306.00L213.01 328.08L214.45 329.06L215.60 340.35L217.91 342.80L354.80 342.80" fill="none" stroke="#00ffff" stroke-width="1.25" stroke-linejoin="round"/>
<path d="M210.70 225.04L211.28 293.73L212.14 328.08L213.58 340.35L215.02 342.80L354.80 342.80" fill="none" stroke="#ff00ff" stroke-width="1.25" stroke-linejoin="round"/>
<path d="M210.70 282.45L211.13 328.08L211.56 342.80L354.80 342.80" fill="none" stroke="#000000" stroke-width="1.35" stroke-linejoin="round"/>
<path d="M208.20 345.12L213.20 345.12L210.70 339.90Z" fill="none" stroke="#ff0000" stroke-width="0.9"/>
<path d="M222.61 345.12L227.61 345.12L225.11 339.90Z" fill="none" stroke="#ff0000" stroke-width="0.9"/>
<path d="M237.02 345.12L242.02 345.12L239.52 339.90Z" fill="none" stroke="#ff0000" stroke-width="0.9"/>
<path d="M251.43 345.12L256.43 345.12L253.93 339.90Z" fill="none" stroke="#ff0000" stroke-width="0.9"/>
<path d="M265.84 345.12L270.84 345.12L268.34 339.90Z" fill="none" stroke="#ff0000" stroke-width="0.9"/>
<path d="M280.25 345.12L285.25 345.12L282.75 339.90Z" fill="none" stroke="#ff0000" stroke-width="0.9"/>
<path d="M294.66 345.12L299.66 345.12L297.16 339.90Z" fill="none" stroke="#ff0000" stroke-width="0.9"/>
<path d="M309.07 345.12L314.07 345.12L311.57 339.90Z" fill="none" stroke="#ff0000" stroke-width="0.9"/>
<path d="M323.48 345.12L328.48 345.12L325.98 339.90Z" fill="none" stroke="#ff0000" stroke-width="0.9"/>
<path d="M337.89 345.12L342.89 345.12L340.39 339.90Z" fill="none" stroke="#ff0000" stroke-width="0.9"/>
<ellipse cx="210.70" cy="225.04" rx="1.75" ry="2.30" fill="none" stroke="#000000" stroke-width="0.9"/>
<ellipse cx="225.11" cy="342.80" rx="1.75" ry="2.30" fill="none" stroke="#000000" stroke-width="0.9"/>
<ellipse cx="239.52" cy="342.80" rx="1.75" ry="2.30" fill="none" stroke="#000000" stroke-width="0.9"/>
<ellipse cx="253.93" cy="342.80" rx="1.75" ry="2.30" fill="none" stroke="#000000" stroke-width="0.9"/>
<ellipse cx="268.34" cy="342.80" rx="1.75" ry="2.30" fill="none" stroke="#000000" stroke-width="0.9"/>
<ellipse cx="282.75" cy="342.80" rx="1.75" ry="2.30" fill="none" stroke="#000000" stroke-width="0.9"/>
<ellipse cx="297.16" cy="342.80" rx="1.75" ry="2.30" fill="none" stroke="#000000" stroke-width="0.9"/>
<ellipse cx="311.57" cy="342.80" rx="1.75" ry="2.30" fill="none" stroke="#000000" stroke-width="0.9"/>
<ellipse cx="325.98" cy="342.80" rx="1.75" ry="2.30" fill="none" stroke="#000000" stroke-width="0.9"/>
<ellipse cx="340.39" cy="342.80" rx="1.75" ry="2.30" fill="none" stroke="#000000" stroke-width="0.9"/>
<path d="M208.80 265.77L210.70 262.37L212.60 265.77L210.70 269.17Z" fill="none" stroke="#0000ff" stroke-width="0.9"/>
<path d="M223.21 342.80L225.11 339.40L227.01 342.80L225.11 346.20Z" fill="none" stroke="#0000ff" stroke-width="0.9"/>
<path d="M237.62 342.80L239.52 339.40L241.42 342.80L239.52 346.20Z" fill="none" stroke="#0000ff" stroke-width="0.9"/>
<path d="M252.03 342.80L253.93 339.40L255.83 342.80L253.93 346.20Z" fill="none" stroke="#0000ff" stroke-width="0.9"/>
<path d="M266.44 342.80L268.34 339.40L270.24 342.80L268.34 346.20Z" fill="none" stroke="#0000ff" stroke-width="0.9"/>
<path d="M280.85 342.80L282.75 339.40L284.65 342.80L282.75 346.20Z" fill="none" stroke="#0000ff" stroke-width="0.9"/>
<path d="M295.26 342.80L297.16 339.40L299.06 342.80L297.16 346.20Z" fill="none" stroke="#0000ff" stroke-width="0.9"/>
<path d="M309.67 342.80L311.57 339.40L313.47 342.80L311.57 346.20Z" fill="none" stroke="#0000ff" stroke-width="0.9"/>
<path d="M324.08 342.80L325.98 339.40L327.88 342.80L325.98 346.20Z" fill="none" stroke="#0000ff" stroke-width="0.9"/>
<path d="M338.49 342.80L340.39 339.40L342.29 342.80L340.39 346.20Z" fill="none" stroke="#0000ff" stroke-width="0.9"/>
<rect x="209.20" y="214.26" width="3.00" height="3.90" fill="none" stroke="#00ffff" stroke-width="0.9"/>
<rect x="223.61" y="340.85" width="3.00" height="3.90" fill="none" stroke="#00ffff" stroke-width="0.9"/>
<rect x="238.02" y="340.85" width="3.00" height="3.90" fill="none" stroke="#00ffff" stroke-width="0.9"/>
<rect x="252.43" y="340.85" width="3.00" height="3.90" fill="none" stroke="#00ffff" stroke-width="0.9"/>
<rect x="266.84" y="340.85" width="3.00" height="3.90" fill="none" stroke="#00ffff" stroke-width="0.9"/>
<rect x="281.25" y="340.85" width="3.00" height="3.90" fill="none" stroke="#00ffff" stroke-width="0.9"/>
<rect x="295.66" y="340.85" width="3.00" height="3.90" fill="none" stroke="#00ffff" stroke-width="0.9"/>
<rect x="310.07" y="340.85" width="3.00" height="3.90" fill="none" stroke="#00ffff" stroke-width="0.9"/>
<rect x="324.48" y="340.85" width="3.00" height="3.90" fill="none" stroke="#00ffff" stroke-width="0.9"/>
<rect x="338.89" y="340.85" width="3.00" height="3.90" fill="none" stroke="#00ffff" stroke-width="0.9"/>
<path d="M210.70 221.92L211.35 224.03L213.32 224.07L211.75 225.43L212.32 227.57L210.70 226.29L209.08 227.57L209.65 225.43L208.08 224.07L210.05 224.03Z" fill="#ff00ff" stroke="#ff00ff" stroke-width="0.5"/>
<path d="M225.11 339.68L225.76 341.79L227.73 341.83L226.16 343.19L226.73 345.33L225.11 344.05L223.49 345.33L224.06 343.19L222.49 341.83L224.46 341.79Z" fill="#ff00ff" stroke="#ff00ff" stroke-width="0.5"/>
<path d="M239.52 339.68L240.17 341.79L242.14 341.83L240.57 343.19L241.14 345.33L239.52 344.05L237.90 345.33L238.47 343.19L236.90 341.83L238.87 341.79Z" fill="#ff00ff" stroke="#ff00ff" stroke-width="0.5"/>
<path d="M253.93 339.68L254.58 341.79L256.55 341.83L254.98 343.19L255.55 345.33L253.93 344.05L252.31 345.33L252.88 343.19L251.31 341.83L253.28 341.79Z" fill="#ff00ff" stroke="#ff00ff" stroke-width="0.5"/>
<path d="M268.34 339.68L268.99 341.79L270.96 341.83L269.39 343.19L269.96 345.33L268.34 344.05L266.72 345.33L267.29 343.19L265.72 341.83L267.69 341.79Z" fill="#ff00ff" stroke="#ff00ff" stroke-width="0.5"/>
<path d="M282.75 339.68L283.40 341.79L285.37 341.83L283.80 343.19L284.37 345.33L282.75 344.05L281.13 345.33L281.70 343.19L280.13 341.83L282.10 341.79Z" fill="#ff00ff" stroke="#ff00ff" stroke-width="0.5"/>
<path d="M297.16 339.68L297.81 341.79L299.78 341.83L298.21 343.19L298.78 345.33L297.16 344.05L295.54 345.33L296.11 343.19L294.54 341.83L296.51 341.79Z" fill="#ff00ff" stroke="#ff00ff" stroke-width="0.5"/>
<path d="M311.57 339.68L312.22 341.79L314.19 341.83L312.62 343.19L313.19 345.33L311.57 344.05L309.95 345.33L310.52 343.19L308.95 341.83L310.92 341.79Z" fill="#ff00ff" stroke="#ff00ff" stroke-width="0.5"/>
<path d="M325.98 339.68L326.63 341.79L328.60 341.83L327.03 343.19L327.60 345.33L325.98 344.05L324.36 345.33L324.93 343.19L323.36 341.83L325.33 341.79Z" fill="#ff00ff" stroke="#ff00ff" stroke-width="0.5"/>
<path d="M340.39 339.68L341.04 341.79L343.01 341.83L341.44 343.19L342.01 345.33L340.39 344.05L338.77 345.33L339.34 343.19L337.77 341.83L339.74 341.79Z" fill="#ff00ff" stroke="#ff00ff" stroke-width="0.5"/>
<path d="M209.10 282.45L210.70 280.15L212.30 282.45L210.70 284.75Z" fill="#000000" stroke="#000000" stroke-width="0.5"/>
<path d="M223.51 342.80L225.11 340.50L226.71 342.80L225.11 345.10Z" fill="#000000" stroke="#000000" stroke-width="0.5"/>
<path d="M237.92 342.80L239.52 340.50L241.12 342.80L239.52 345.10Z" fill="#000000" stroke="#000000" stroke-width="0.5"/>
<path d="M252.33 342.80L253.93 340.50L255.53 342.80L253.93 345.10Z" fill="#000000" stroke="#000000" stroke-width="0.5"/>
<path d="M266.74 342.80L268.34 340.50L269.94 342.80L268.34 345.10Z" fill="#000000" stroke="#000000" stroke-width="0.5"/>
<path d="M281.15 342.80L282.75 340.50L284.35 342.80L282.75 345.10Z" fill="#000000" stroke="#000000" stroke-width="0.5"/>
<path d="M295.56 342.80L297.16 340.50L298.76 342.80L297.16 345.10Z" fill="#000000" stroke="#000000" stroke-width="0.5"/>
<path d="M309.97 342.80L311.57 340.50L313.17 342.80L311.57 345.10Z" fill="#000000" stroke="#000000" stroke-width="0.5"/>
<path d="M324.38 342.80L325.98 340.50L327.58 342.80L325.98 345.10Z" fill="#000000" stroke="#000000" stroke-width="0.5"/>
<path d="M338.79 342.80L340.39 340.50L341.99 342.80L340.39 345.10Z" fill="#000000" stroke="#000000" stroke-width="0.5"/>
<rect x="318.20" y="200.50" width="32.8" height="43.3" fill="#fff" stroke="#444" stroke-width="0.6"/>
<path d="M319.40 205.20h13.2" stroke="#ff0000" stroke-width="1.3"/>
<path d="M323.50 207.52L328.50 207.52L326.00 202.30Z" fill="none" stroke="#ff0000" stroke-width="0.9"/>
<text transform="translate(333.90 207.00) scale(0.8 1)" font-size="5.2" text-anchor="start" font-weight="bold" fill="#111" stroke="#111" stroke-width="0.1">MSGWO</text>
<path d="M319.40 212.25h13.2" stroke="#000000" stroke-width="1.3"/>
<ellipse cx="326.00" cy="212.25" rx="1.75" ry="2.30" fill="none" stroke="#000000" stroke-width="0.9"/>
<text transform="translate(333.90 214.05) scale(0.8 1)" font-size="5.2" text-anchor="start" font-weight="bold" fill="#111" stroke="#111" stroke-width="0.1">GWO</text>
<path d="M319.40 219.30h13.2" stroke="#0000ff" stroke-width="1.3"/>
<path d="M324.10 219.30L326.00 215.90L327.90 219.30L326.00 222.70Z" fill="none" stroke="#0000ff" stroke-width="0.9"/>
<text transform="translate(333.90 221.10) scale(0.8 1)" font-size="5.2" text-anchor="start" font-weight="bold" fill="#111" stroke="#111" stroke-width="0.1">MEGWO</text>
<path d="M319.40 226.35h13.2" stroke="#00ffff" stroke-width="1.3"/>
<rect x="324.50" y="224.40" width="3.00" height="3.90" fill="none" stroke="#00ffff" stroke-width="0.9"/>
<text transform="translate(333.90 228.15) scale(0.8 1)" font-size="5.2" text-anchor="start" font-weight="bold" fill="#111" stroke="#111" stroke-width="0.1">mGWO</text>
<path d="M319.40 233.40h13.2" stroke="#ff00ff" stroke-width="1.3"/>
<path d="M326.00 230.27L326.65 232.39L328.62 232.43L327.05 233.79L327.62 235.93L326.00 234.65L324.38 235.93L324.95 233.79L323.38 232.43L325.35 232.39Z" fill="#ff00ff" stroke="#ff00ff" stroke-width="0.5"/>
<text transform="translate(333.90 235.20) scale(0.8 1)" font-size="5.2" text-anchor="start" font-weight="bold" fill="#111" stroke="#111" stroke-width="0.1">IGWO</text>
<path d="M319.40 240.45h13.2" stroke="#000000" stroke-width="1.3"/>
<path d="M324.40 240.45L326.00 238.15L327.60 240.45L326.00 242.75Z" fill="#000000" stroke="#000000" stroke-width="0.5"/>
<text transform="translate(333.90 242.25) scale(0.8 1)" font-size="5.2" text-anchor="start" font-weight="bold" fill="#111" stroke="#111" stroke-width="0.1">MPSO</text>
<path d="M412.12 195.60V340.70M426.54 195.60V340.70M440.96 195.60V340.70M455.38 195.60V340.70M469.80 195.60V340.70M484.22 195.60V340.70M498.64 195.60V340.70M513.06 195.60V340.70M527.48 195.60V340.70M397.70 322.56H541.90M397.70 304.43H541.90M397.70 286.29H541.90M397.70 268.15H541.90M397.70 250.01H541.90M397.70 231.88H541.90M397.70 213.74H541.90" stroke="#e8e8e8" stroke-width="0.55" fill="none"/>
<path d="M397.70 340.70v-1.5M397.70 195.60v1.5M412.12 340.70v-1.5M412.12 195.60v1.5M426.54 340.70v-1.5M426.54 195.60v1.5M440.96 340.70v-1.5M440.96 195.60v1.5M455.38 340.70v-1.5M455.38 195.60v1.5M469.80 340.70v-1.5M469.80 195.60v1.5M484.22 340.70v-1.5M484.22 195.60v1.5M498.64 340.70v-1.5M498.64 195.60v1.5M513.06 340.70v-1.5M513.06 195.60v1.5M527.48 340.70v-1.5M527.48 195.60v1.5M541.90 340.70v-1.5M541.90 195.60v1.5M397.70 340.70h1.5M541.90 340.70h-1.5M397.70 322.56h1.5M541.90 322.56h-1.5M397.70 304.43h1.5M541.90 304.43h-1.5M397.70 286.29h1.5M541.90 286.29h-1.5M397.70 268.15h1.5M541.90 268.15h-1.5M397.70 250.01h1.5M541.90 250.01h-1.5M397.70 231.88h1.5M541.90 231.88h-1.5M397.70 213.74h1.5M541.90 213.74h-1.5M397.70 195.60h1.5M541.90 195.60h-1.5" stroke="#555" stroke-width="0.5" fill="none"/>
<rect x="397.70" y="195.60" width="144.20" height="145.10" fill="none" stroke="#555" stroke-width="0.65"/>
<text transform="translate(397.70 349.30) scale(0.8 1)" font-size="5.3" text-anchor="middle" font-weight="normal" fill="#222" stroke="#222" stroke-width="0.2">0</text>
<text transform="translate(412.12 349.30) scale(0.8 1)" font-size="5.3" text-anchor="middle" font-weight="normal" fill="#222" stroke="#222" stroke-width="0.2">50</text>
<text transform="translate(426.54 349.30) scale(0.8 1)" font-size="5.3" text-anchor="middle" font-weight="normal" fill="#222" stroke="#222" stroke-width="0.2">100</text>
<text transform="translate(440.96 349.30) scale(0.8 1)" font-size="5.3" text-anchor="middle" font-weight="normal" fill="#222" stroke="#222" stroke-width="0.2">150</text>
<text transform="translate(455.38 349.30) scale(0.8 1)" font-size="5.3" text-anchor="middle" font-weight="normal" fill="#222" stroke="#222" stroke-width="0.2">200</text>
<text transform="translate(469.80 349.30) scale(0.8 1)" font-size="5.3" text-anchor="middle" font-weight="normal" fill="#222" stroke="#222" stroke-width="0.2">250</text>
<text transform="translate(484.22 349.30) scale(0.8 1)" font-size="5.3" text-anchor="middle" font-weight="normal" fill="#222" stroke="#222" stroke-width="0.2">300</text>
<text transform="translate(498.64 349.30) scale(0.8 1)" font-size="5.3" text-anchor="middle" font-weight="normal" fill="#222" stroke="#222" stroke-width="0.2">350</text>
<text transform="translate(513.06 349.30) scale(0.8 1)" font-size="5.3" text-anchor="middle" font-weight="normal" fill="#222" stroke="#222" stroke-width="0.2">400</text>
<text transform="translate(527.48 349.30) scale(0.8 1)" font-size="5.3" text-anchor="middle" font-weight="normal" fill="#222" stroke="#222" stroke-width="0.2">450</text>
<text transform="translate(541.90 349.30) scale(0.8 1)" font-size="5.3" text-anchor="middle" font-weight="normal" fill="#222" stroke="#222" stroke-width="0.2">500</text>
<text transform="translate(395.30 342.50) scale(0.8 1)" font-size="5.3" text-anchor="end" font-weight="normal" fill="#222" stroke="#222" stroke-width="0.2">0</text>
<text transform="translate(395.30 324.36) scale(0.8 1)" font-size="5.3" text-anchor="end" font-weight="normal" fill="#222" stroke="#222" stroke-width="0.2">1</text>
<text transform="translate(395.30 306.23) scale(0.8 1)" font-size="5.3" text-anchor="end" font-weight="normal" fill="#222" stroke="#222" stroke-width="0.2">2</text>
<text transform="translate(395.30 288.09) scale(0.8 1)" font-size="5.3" text-anchor="end" font-weight="normal" fill="#222" stroke="#222" stroke-width="0.2">3</text>
<text transform="translate(395.30 269.95) scale(0.8 1)" font-size="5.3" text-anchor="end" font-weight="normal" fill="#222" stroke="#222" stroke-width="0.2">4</text>
<text transform="translate(395.30 251.81) scale(0.8 1)" font-size="5.3" text-anchor="end" font-weight="normal" fill="#222" stroke="#222" stroke-width="0.2">5</text>
<text transform="translate(395.30 233.68) scale(0.8 1)" font-size="5.3" text-anchor="end" font-weight="normal" fill="#222" stroke="#222" stroke-width="0.2">6</text>
<text transform="translate(395.30 215.54) scale(0.8 1)" font-size="5.3" text-anchor="end" font-weight="normal" fill="#222" stroke="#222" stroke-width="0.2">7</text>
<text transform="translate(395.30 197.40) scale(0.8 1)" font-size="5.3" text-anchor="end" font-weight="normal" fill="#222" stroke="#222" stroke-width="0.2">8</text>
<text transform="translate(398.90 194.30) scale(0.85 1)" font-size="5.2" text-anchor="start" font-weight="normal" fill="#2a2a2a" stroke="#2a2a2a" stroke-width="0.25">x 10<tspan font-size="3.8" dy="-2.4" dx="-0.5">4</tspan></text>
<text transform="translate(469.40 193.20) scale(0.76 1)" font-size="6.2" text-anchor="middle" font-weight="bold" fill="#111" stroke="#111" stroke-width="0.15">F6</text>
<text transform="translate(469.50 360.06) scale(0.78 1)" font-size="8.4" text-anchor="middle" font-weight="normal" fill="#262626" stroke="#262626" stroke-width="0.32">Iterations</text>
<text transform="translate(390.70 268.45) rotate(-90) scale(1 0.8)" font-size="8.4" text-anchor="middle" font-weight="normal" fill="#262626" stroke="#262626" stroke-width="0.32">Fitness value</text>
<path d="M397.70 340.70L541.90 340.70" fill="none" stroke="#ff0000" stroke-width="1.15" stroke-linejoin="round"/>
<path d="M397.70 213.74L397.99 304.43L398.13 322.56L398.85 340.70L541.90 340.70" fill="none" stroke="#000000" stroke-width="0.95" stroke-linejoin="round"/>
<path d="M397.70 264.52L398.57 286.29L399.60 304.43L400.79 322.56L402.60 337.07L404.91 340.70L541.90 340.70" fill="none" stroke="#0000ff" stroke-width="1.2" stroke-linejoin="round"/>
<path d="M397.70 217.37L398.57 259.08L399.60 286.29L400.79 304.43L402.60 322.56L404.77 337.07L406.93 340.70L541.90 340.70" fill="none" stroke="#00ffff" stroke-width="1.25" stroke-linejoin="round"/>
<path d="M397.70 211.92L398.28 268.15L398.85 304.43L399.60 322.56L400.58 335.26L401.74 338.89L404.04 340.70L541.90 340.70" fill="none" stroke="#ff00ff" stroke-width="1.25" stroke-linejoin="round"/>
<path d="M397.70 230.06L398.13 268.15L398.57 286.29L399.03 304.43L400.01 322.56L401.45 335.26L404.04 338.89L406.35 340.70L541.90 340.70" fill="none" stroke="#000000" stroke-width="1.35" stroke-linejoin="round"/>
<path d="M395.20 343.02L400.20 343.02L397.70 337.80Z" fill="none" stroke="#ff0000" stroke-width="0.9"/>
<path d="M409.62 343.02L414.62 343.02L412.12 337.80Z" fill="none" stroke="#ff0000" stroke-width="0.9"/>
<path d="M424.04 343.02L429.04 343.02L426.54 337.80Z" fill="none" stroke="#ff0000" stroke-width="0.9"/>
<path d="M438.46 343.02L443.46 343.02L440.96 337.80Z" fill="none" stroke="#ff0000" stroke-width="0.9"/>
<path d="M452.88 343.02L457.88 343.02L455.38 337.80Z" fill="none" stroke="#ff0000" stroke-width="0.9"/>
<path d="M467.30 343.02L472.30 343.02L469.80 337.80Z" fill="none" stroke="#ff0000" stroke-width="0.9"/>
<path d="M481.72 343.02L486.72 343.02L484.22 337.80Z" fill="none" stroke="#ff0000" stroke-width="0.9"/>
<path d="M496.14 343.02L501.14 343.02L498.64 337.80Z" fill="none" stroke="#ff0000" stroke-width="0.9"/>
<path d="M510.56 343.02L515.56 343.02L513.06 337.80Z" fill="none" stroke="#ff0000" stroke-width="0.9"/>
<path d="M524.98 343.02L529.98 343.02L527.48 337.80Z" fill="none" stroke="#ff0000" stroke-width="0.9"/>
<ellipse cx="397.70" cy="213.74" rx="1.75" ry="2.30" fill="none" stroke="#000000" stroke-width="0.9"/>
<ellipse cx="412.12" cy="340.70" rx="1.75" ry="2.30" fill="none" stroke="#000000" stroke-width="0.9"/>
<ellipse cx="426.54" cy="340.70" rx="1.75" ry="2.30" fill="none" stroke="#000000" stroke-width="0.9"/>
<ellipse cx="440.96" cy="340.70" rx="1.75" ry="2.30" fill="none" stroke="#000000" stroke-width="0.9"/>
<ellipse cx="455.38" cy="340.70" rx="1.75" ry="2.30" fill="none" stroke="#000000" stroke-width="0.9"/>
<ellipse cx="469.80" cy="340.70" rx="1.75" ry="2.30" fill="none" stroke="#000000" stroke-width="0.9"/>
<ellipse cx="484.22" cy="340.70" rx="1.75" ry="2.30" fill="none" stroke="#000000" stroke-width="0.9"/>
<ellipse cx="498.64" cy="340.70" rx="1.75" ry="2.30" fill="none" stroke="#000000" stroke-width="0.9"/>
<ellipse cx="513.06" cy="340.70" rx="1.75" ry="2.30" fill="none" stroke="#000000" stroke-width="0.9"/>
<ellipse cx="527.48" cy="340.70" rx="1.75" ry="2.30" fill="none" stroke="#000000" stroke-width="0.9"/>
<path d="M395.80 264.52L397.70 261.12L399.60 264.52L397.70 267.92Z" fill="none" stroke="#0000ff" stroke-width="0.9"/>
<path d="M410.22 340.70L412.12 337.30L414.02 340.70L412.12 344.10Z" fill="none" stroke="#0000ff" stroke-width="0.9"/>
<path d="M424.64 340.70L426.54 337.30L428.44 340.70L426.54 344.10Z" fill="none" stroke="#0000ff" stroke-width="0.9"/>
<path d="M439.06 340.70L440.96 337.30L442.86 340.70L440.96 344.10Z" fill="none" stroke="#0000ff" stroke-width="0.9"/>
<path d="M453.48 340.70L455.38 337.30L457.28 340.70L455.38 344.10Z" fill="none" stroke="#0000ff" stroke-width="0.9"/>
<path d="M467.90 340.70L469.80 337.30L471.70 340.70L469.80 344.10Z" fill="none" stroke="#0000ff" stroke-width="0.9"/>
<path d="M482.32 340.70L484.22 337.30L486.12 340.70L484.22 344.10Z" fill="none" stroke="#0000ff" stroke-width="0.9"/>
<path d="M496.74 340.70L498.64 337.30L500.54 340.70L498.64 344.10Z" fill="none" stroke="#0000ff" stroke-width="0.9"/>
<path d="M511.16 340.70L513.06 337.30L514.96 340.70L513.06 344.10Z" fill="none" stroke="#0000ff" stroke-width="0.9"/>
<path d="M525.58 340.70L527.48 337.30L529.38 340.70L527.48 344.10Z" fill="none" stroke="#0000ff" stroke-width="0.9"/>
<rect x="396.20" y="215.42" width="3.00" height="3.90" fill="none" stroke="#00ffff" stroke-width="0.9"/>
<rect x="410.62" y="338.75" width="3.00" height="3.90" fill="none" stroke="#00ffff" stroke-width="0.9"/>
<rect x="425.04" y="338.75" width="3.00" height="3.90" fill="none" stroke="#00ffff" stroke-width="0.9"/>
<rect x="439.46" y="338.75" width="3.00" height="3.90" fill="none" stroke="#00ffff" stroke-width="0.9"/>
<rect x="453.88" y="338.75" width="3.00" height="3.90" fill="none" stroke="#00ffff" stroke-width="0.9"/>
<rect x="468.30" y="338.75" width="3.00" height="3.90" fill="none" stroke="#00ffff" stroke-width="0.9"/>
<rect x="482.72" y="338.75" width="3.00" height="3.90" fill="none" stroke="#00ffff" stroke-width="0.9"/>
<rect x="497.14" y="338.75" width="3.00" height="3.90" fill="none" stroke="#00ffff" stroke-width="0.9"/>
<rect x="511.56" y="338.75" width="3.00" height="3.90" fill="none" stroke="#00ffff" stroke-width="0.9"/>
<rect x="525.98" y="338.75" width="3.00" height="3.90" fill="none" stroke="#00ffff" stroke-width="0.9"/>
<path d="M397.70 208.80L398.35 210.91L400.32 210.96L398.75 212.31L399.32 214.45L397.70 213.17L396.08 214.45L396.65 212.31L395.08 210.96L397.05 210.91Z" fill="#ff00ff" stroke="#ff00ff" stroke-width="0.5"/>
<path d="M412.12 337.57L412.77 339.69L414.74 339.73L413.17 341.09L413.74 343.23L412.12 341.95L410.50 343.23L411.07 341.09L409.50 339.73L411.47 339.69Z" fill="#ff00ff" stroke="#ff00ff" stroke-width="0.5"/>
<path d="M426.54 337.57L427.19 339.69L429.16 339.73L427.59 341.09L428.16 343.23L426.54 341.95L424.92 343.23L425.49 341.09L423.92 339.73L425.89 339.69Z" fill="#ff00ff" stroke="#ff00ff" stroke-width="0.5"/>
<path d="M440.96 337.57L441.61 339.69L443.58 339.73L442.01 341.09L442.58 343.23L440.96 341.95L439.34 343.23L439.91 341.09L438.34 339.73L440.31 339.69Z" fill="#ff00ff" stroke="#ff00ff" stroke-width="0.5"/>
<path d="M455.38 337.57L456.03 339.69L458.00 339.73L456.43 341.09L457.00 343.23L455.38 341.95L453.76 343.23L454.33 341.09L452.76 339.73L454.73 339.69Z" fill="#ff00ff" stroke="#ff00ff" stroke-width="0.5"/>
<path d="M469.80 337.57L470.45 339.69L472.42 339.73L470.85 341.09L471.42 343.23L469.80 341.95L468.18 343.23L468.75 341.09L467.18 339.73L469.15 339.69Z" fill="#ff00ff" stroke="#ff00ff" stroke-width="0.5"/>
<path d="M484.22 337.57L484.87 339.69L486.84 339.73L485.27 341.09L485.84 343.23L484.22 341.95L482.60 343.23L483.17 341.09L481.60 339.73L483.57 339.69Z" fill="#ff00ff" stroke="#ff00ff" stroke-width="0.5"/>
<path d="M498.64 337.57L499.29 339.69L501.26 339.73L499.69 341.09L500.26 343.23L498.64 341.95L497.02 343.23L497.59 341.09L496.02 339.73L497.99 339.69Z" fill="#ff00ff" stroke="#ff00ff" stroke-width="0.5"/>
<path d="M513.06 337.57L513.71 339.69L515.68 339.73L514.11 341.09L514.68 343.23L513.06 341.95L511.44 343.23L512.01 341.09L510.44 339.73L512.41 339.69Z" fill="#ff00ff" stroke="#ff00ff" stroke-width="0.5"/>
<path d="M527.48 337.57L528.13 339.69L530.10 339.73L528.53 341.09L529.10 343.23L527.48 341.95L525.86 343.23L526.43 341.09L524.86 339.73L526.83 339.69Z" fill="#ff00ff" stroke="#ff00ff" stroke-width="0.5"/>
<path d="M396.10 230.06L397.70 227.76L399.30 230.06L397.70 232.36Z" fill="#000000" stroke="#000000" stroke-width="0.5"/>
<path d="M410.52 340.70L412.12 338.40L413.72 340.70L412.12 343.00Z" fill="#000000" stroke="#000000" stroke-width="0.5"/>
<path d="M424.94 340.70L426.54 338.40L428.14 340.70L426.54 343.00Z" fill="#000000" stroke="#000000" stroke-width="0.5"/>
<path d="M439.36 340.70L440.96 338.40L442.56 340.70L440.96 343.00Z" fill="#000000" stroke="#000000" stroke-width="0.5"/>
<path d="M453.78 340.70L455.38 338.40L456.98 340.70L455.38 343.00Z" fill="#000000" stroke="#000000" stroke-width="0.5"/>
<path d="M468.20 340.70L469.80 338.40L471.40 340.70L469.80 343.00Z" fill="#000000" stroke="#000000" stroke-width="0.5"/>
<path d="M482.62 340.70L484.22 338.40L485.82 340.70L484.22 343.00Z" fill="#000000" stroke="#000000" stroke-width="0.5"/>
<path d="M497.04 340.70L498.64 338.40L500.24 340.70L498.64 343.00Z" fill="#000000" stroke="#000000" stroke-width="0.5"/>
<path d="M511.46 340.70L513.06 338.40L514.66 340.70L513.06 343.00Z" fill="#000000" stroke="#000000" stroke-width="0.5"/>
<path d="M525.88 340.70L527.48 338.40L529.08 340.70L527.48 343.00Z" fill="#000000" stroke="#000000" stroke-width="0.5"/>
<rect x="505.30" y="200.50" width="32.8" height="43.3" fill="#fff" stroke="#444" stroke-width="0.6"/>
<path d="M506.50 205.20h13.2" stroke="#ff0000" stroke-width="1.3"/>
<path d="M510.60 207.52L515.60 207.52L513.10 202.30Z" fill="none" stroke="#ff0000" stroke-width="0.9"/>
<text transform="translate(521.00 207.00) scale(0.8 1)" font-size="5.2" text-anchor="start" font-weight="bold" fill="#111" stroke="#111" stroke-width="0.1">MSGWO</text>
<path d="M506.50 212.25h13.2" stroke="#000000" stroke-width="1.3"/>
<ellipse cx="513.10" cy="212.25" rx="1.75" ry="2.30" fill="none" stroke="#000000" stroke-width="0.9"/>
<text transform="translate(521.00 214.05) scale(0.8 1)" font-size="5.2" text-anchor="start" font-weight="bold" fill="#111" stroke="#111" stroke-width="0.1">GWO</text>
<path d="M506.50 219.30h13.2" stroke="#0000ff" stroke-width="1.3"/>
<path d="M511.20 219.30L513.10 215.90L515.00 219.30L513.10 222.70Z" fill="none" stroke="#0000ff" stroke-width="0.9"/>
<text transform="translate(521.00 221.10) scale(0.8 1)" font-size="5.2" text-anchor="start" font-weight="bold" fill="#111" stroke="#111" stroke-width="0.1">MEGWO</text>
<path d="M506.50 226.35h13.2" stroke="#00ffff" stroke-width="1.3"/>
<rect x="511.60" y="224.40" width="3.00" height="3.90" fill="none" stroke="#00ffff" stroke-width="0.9"/>
<text transform="translate(521.00 228.15) scale(0.8 1)" font-size="5.2" text-anchor="start" font-weight="bold" fill="#111" stroke="#111" stroke-width="0.1">mGWO</text>
<path d="M506.50 233.40h13.2" stroke="#ff00ff" stroke-width="1.3"/>
<path d="M513.10 230.27L513.75 232.39L515.72 232.43L514.15 233.79L514.72 235.93L513.10 234.65L511.48 235.93L512.05 233.79L510.48 232.43L512.45 232.39Z" fill="#ff00ff" stroke="#ff00ff" stroke-width="0.5"/>
<text transform="translate(521.00 235.20) scale(0.8 1)" font-size="5.2" text-anchor="start" font-weight="bold" fill="#111" stroke="#111" stroke-width="0.1">IGWO</text>
<path d="M506.50 240.45h13.2" stroke="#000000" stroke-width="1.3"/>
<path d="M511.50 240.45L513.10 238.15L514.70 240.45L513.10 242.75Z" fill="#000000" stroke="#000000" stroke-width="0.5"/>
<text transform="translate(521.00 242.25) scale(0.8 1)" font-size="5.2" text-anchor="start" font-weight="bold" fill="#111" stroke="#111" stroke-width="0.1">MPSO</text>
<path d="M38.03 377.70V523.00M52.46 377.70V523.00M66.89 377.70V523.00M81.32 377.70V523.00M95.75 377.70V523.00M110.18 377.70V523.00M124.61 377.70V523.00M139.04 377.70V523.00M153.47 377.70V523.00M23.60 474.57H167.90M23.60 426.13H167.90" stroke="#e8e8e8" stroke-width="0.55" fill="none"/>
<path d="M23.60 523.00v-1.5M23.60 377.70v1.5M38.03 523.00v-1.5M38.03 377.70v1.5M52.46 523.00v-1.5M52.46 377.70v1.5M66.89 523.00v-1.5M66.89 377.70v1.5M81.32 523.00v-1.5M81.32 377.70v1.5M95.75 523.00v-1.5M95.75 377.70v1.5M110.18 523.00v-1.5M110.18 377.70v1.5M124.61 523.00v-1.5M124.61 377.70v1.5M139.04 523.00v-1.5M139.04 377.70v1.5M153.47 523.00v-1.5M153.47 377.70v1.5M167.90 523.00v-1.5M167.90 377.70v1.5M23.60 523.00h1.5M167.90 523.00h-1.5M23.60 474.57h1.5M167.90 474.57h-1.5M23.60 426.13h1.5M167.90 426.13h-1.5M23.60 377.70h1.5M167.90 377.70h-1.5" stroke="#555" stroke-width="0.5" fill="none"/>
<rect x="23.60" y="377.70" width="144.30" height="145.30" fill="none" stroke="#555" stroke-width="0.65"/>
<text transform="translate(23.60 531.40) scale(0.8 1)" font-size="5.3" text-anchor="middle" font-weight="normal" fill="#222" stroke="#222" stroke-width="0.2">0</text>
<text transform="translate(38.03 531.40) scale(0.8 1)" font-size="5.3" text-anchor="middle" font-weight="normal" fill="#222" stroke="#222" stroke-width="0.2">50</text>
<text transform="translate(52.46 531.40) scale(0.8 1)" font-size="5.3" text-anchor="middle" font-weight="normal" fill="#222" stroke="#222" stroke-width="0.2">100</text>
<text transform="translate(66.89 531.40) scale(0.8 1)" font-size="5.3" text-anchor="middle" font-weight="normal" fill="#222" stroke="#222" stroke-width="0.2">150</text>
<text transform="translate(81.32 531.40) scale(0.8 1)" font-size="5.3" text-anchor="middle" font-weight="normal" fill="#222" stroke="#222" stroke-width="0.2">200</text>
<text transform="translate(95.75 531.40) scale(0.8 1)" font-size="5.3" text-anchor="middle" font-weight="normal" fill="#222" stroke="#222" stroke-width="0.2">250</text>
<text transform="translate(110.18 531.40) scale(0.8 1)" font-size="5.3" text-anchor="middle" font-weight="normal" fill="#222" stroke="#222" stroke-width="0.2">300</text>
<text transform="translate(124.61 531.40) scale(0.8 1)" font-size="5.3" text-anchor="middle" font-weight="normal" fill="#222" stroke="#222" stroke-width="0.2">350</text>
<text transform="translate(139.04 531.40) scale(0.8 1)" font-size="5.3" text-anchor="middle" font-weight="normal" fill="#222" stroke="#222" stroke-width="0.2">400</text>
<text transform="translate(153.47 531.40) scale(0.8 1)" font-size="5.3" text-anchor="middle" font-weight="normal" fill="#222" stroke="#222" stroke-width="0.2">450</text>
<text transform="translate(167.90 531.40) scale(0.8 1)" font-size="5.3" text-anchor="middle" font-weight="normal" fill="#222" stroke="#222" stroke-width="0.2">500</text>
<text transform="translate(21.20 524.80) scale(0.8 1)" font-size="5.3" text-anchor="end" font-weight="normal" fill="#222" stroke="#222" stroke-width="0.2">0</text>
<text transform="translate(21.20 476.37) scale(0.8 1)" font-size="5.3" text-anchor="end" font-weight="normal" fill="#222" stroke="#222" stroke-width="0.2">50</text>
<text transform="translate(21.20 427.93) scale(0.8 1)" font-size="5.3" text-anchor="end" font-weight="normal" fill="#222" stroke="#222" stroke-width="0.2">100</text>
<text transform="translate(21.20 379.50) scale(0.8 1)" font-size="5.3" text-anchor="end" font-weight="normal" fill="#222" stroke="#222" stroke-width="0.2">150</text>
<text transform="translate(95.35 375.30) scale(0.76 1)" font-size="6.2" text-anchor="middle" font-weight="bold" fill="#111" stroke="#111" stroke-width="0.15">F7</text>
<text transform="translate(95.45 542.24) scale(0.78 1)" font-size="8.4" text-anchor="middle" font-weight="normal" fill="#262626" stroke="#262626" stroke-width="0.32">Iterations</text>
<text transform="translate(11.30 450.65) rotate(-90) scale(1 0.8)" font-size="8.4" text-anchor="middle" font-weight="normal" fill="#262626" stroke="#262626" stroke-width="0.32">Fitness value</text>
<path d="M23.60 521.06L24.47 522.71L26.49 523.00L167.90 523.00" fill="none" stroke="#ff0000" stroke-width="1.15" stroke-linejoin="round"/>
<path d="M23.60 428.07L23.89 503.63L24.47 523.00L167.90 523.00" fill="none" stroke="#000000" stroke-width="0.95" stroke-linejoin="round"/>
<path d="M23.60 504.60L24.18 518.16L25.04 523.00L167.90 523.00" fill="none" stroke="#0000ff" stroke-width="1.2" stroke-linejoin="round"/>
<path d="M23.60 393.20L24.47 435.82L25.04 457.13L25.79 460.04L26.49 474.57L28.22 503.63L29.37 513.31L30.24 515.25L31.68 522.52L33.70 523.00L167.90 523.00" fill="none" stroke="#00ffff" stroke-width="1.25" stroke-linejoin="round"/>
<path d="M23.60 428.07L23.89 493.94L24.47 518.16L25.91 523.00L167.90 523.00" fill="none" stroke="#ff00ff" stroke-width="1.25" stroke-linejoin="round"/>
<path d="M23.60 385.45L23.89 464.88L24.18 513.31L24.75 519.13L26.49 522.52L29.37 523.00L167.90 523.00" fill="none" stroke="#000000" stroke-width="1.35" stroke-linejoin="round"/>
<path d="M33.70 523.00H167.90" stroke="#3a3a3a" stroke-width="1.8"/>
<path d="M21.10 523.38L26.10 523.38L23.60 518.16Z" fill="none" stroke="#ff0000" stroke-width="0.9"/>
<path d="M35.53 525.32L40.53 525.32L38.03 520.10Z" fill="none" stroke="#ff0000" stroke-width="0.9"/>
<path d="M49.96 525.32L54.96 525.32L52.46 520.10Z" fill="none" stroke="#ff0000" stroke-width="0.9"/>
<path d="M64.39 525.32L69.39 525.32L66.89 520.10Z" fill="none" stroke="#ff0000" stroke-width="0.9"/>
<path d="M78.82 525.32L83.82 525.32L81.32 520.10Z" fill="none" stroke="#ff0000" stroke-width="0.9"/>
<path d="M93.25 525.32L98.25 525.32L95.75 520.10Z" fill="none" stroke="#ff0000" stroke-width="0.9"/>
<path d="M107.68 525.32L112.68 525.32L110.18 520.10Z" fill="none" stroke="#ff0000" stroke-width="0.9"/>
<path d="M122.11 525.32L127.11 525.32L124.61 520.10Z" fill="none" stroke="#ff0000" stroke-width="0.9"/>
<path d="M136.54 525.32L141.54 525.32L139.04 520.10Z" fill="none" stroke="#ff0000" stroke-width="0.9"/>
<path d="M150.97 525.32L155.97 525.32L153.47 520.10Z" fill="none" stroke="#ff0000" stroke-width="0.9"/>
<ellipse cx="23.60" cy="428.07" rx="1.75" ry="2.30" fill="none" stroke="#000000" stroke-width="0.9"/>
<ellipse cx="38.03" cy="523.00" rx="1.75" ry="2.30" fill="none" stroke="#000000" stroke-width="0.9"/>
<ellipse cx="52.46" cy="523.00" rx="1.75" ry="2.30" fill="none" stroke="#000000" stroke-width="0.9"/>
<ellipse cx="66.89" cy="523.00" rx="1.75" ry="2.30" fill="none" stroke="#000000" stroke-width="0.9"/>
<ellipse cx="81.32" cy="523.00" rx="1.75" ry="2.30" fill="none" stroke="#000000" stroke-width="0.9"/>
<ellipse cx="95.75" cy="523.00" rx="1.75" ry="2.30" fill="none" stroke="#000000" stroke-width="0.9"/>
<ellipse cx="110.18" cy="523.00" rx="1.75" ry="2.30" fill="none" stroke="#000000" stroke-width="0.9"/>
<ellipse cx="124.61" cy="523.00" rx="1.75" ry="2.30" fill="none" stroke="#000000" stroke-width="0.9"/>
<ellipse cx="139.04" cy="523.00" rx="1.75" ry="2.30" fill="none" stroke="#000000" stroke-width="0.9"/>
<ellipse cx="153.47" cy="523.00" rx="1.75" ry="2.30" fill="none" stroke="#000000" stroke-width="0.9"/>
<path d="M21.70 504.60L23.60 501.20L25.50 504.60L23.60 508.00Z" fill="none" stroke="#0000ff" stroke-width="0.9"/>
<path d="M36.13 523.00L38.03 519.60L39.93 523.00L38.03 526.40Z" fill="none" stroke="#0000ff" stroke-width="0.9"/>
<path d="M50.56 523.00L52.46 519.60L54.36 523.00L52.46 526.40Z" fill="none" stroke="#0000ff" stroke-width="0.9"/>
<path d="M64.99 523.00L66.89 519.60L68.79 523.00L66.89 526.40Z" fill="none" stroke="#0000ff" stroke-width="0.9"/>
<path d="M79.42 523.00L81.32 519.60L83.22 523.00L81.32 526.40Z" fill="none" stroke="#0000ff" stroke-width="0.9"/>
<path d="M93.85 523.00L95.75 519.60L97.65 523.00L95.75 526.40Z" fill="none" stroke="#0000ff" stroke-width="0.9"/>
<path d="M108.28 523.00L110.18 519.60L112.08 523.00L110.18 526.40Z" fill="none" stroke="#0000ff" stroke-width="0.9"/>
<path d="M122.71 523.00L124.61 519.60L126.51 523.00L124.61 526.40Z" fill="none" stroke="#0000ff" stroke-width="0.9"/>
<path d="M137.14 523.00L139.04 519.60L140.94 523.00L139.04 526.40Z" fill="none" stroke="#0000ff" stroke-width="0.9"/>
<path d="M151.57 523.00L153.47 519.60L155.37 523.00L153.47 526.40Z" fill="none" stroke="#0000ff" stroke-width="0.9"/>
<rect x="22.10" y="391.25" width="3.00" height="3.90" fill="none" stroke="#00ffff" stroke-width="0.9"/>
<rect x="36.53" y="521.05" width="3.00" height="3.90" fill="none" stroke="#00ffff" stroke-width="0.9"/>
<rect x="50.96" y="521.05" width="3.00" height="3.90" fill="none" stroke="#00ffff" stroke-width="0.9"/>
<rect x="65.39" y="521.05" width="3.00" height="3.90" fill="none" stroke="#00ffff" stroke-width="0.9"/>
<rect x="79.82" y="521.05" width="3.00" height="3.90" fill="none" stroke="#00ffff" stroke-width="0.9"/>
<rect x="94.25" y="521.05" width="3.00" height="3.90" fill="none" stroke="#00ffff" stroke-width="0.9"/>
<rect x="108.68" y="521.05" width="3.00" height="3.90" fill="none" stroke="#00ffff" stroke-width="0.9"/>
<rect x="123.11" y="521.05" width="3.00" height="3.90" fill="none" stroke="#00ffff" stroke-width="0.9"/>
<rect x="137.54" y="521.05" width="3.00" height="3.90" fill="none" stroke="#00ffff" stroke-width="0.9"/>
<rect x="151.97" y="521.05" width="3.00" height="3.90" fill="none" stroke="#00ffff" stroke-width="0.9"/>
<path d="M23.60 424.95L24.25 427.06L26.22 427.10L24.65 428.46L25.22 430.60L23.60 429.32L21.98 430.60L22.55 428.46L20.98 427.10L22.95 427.06Z" fill="#ff00ff" stroke="#ff00ff" stroke-width="0.5"/>
<path d="M38.03 519.88L38.68 521.99L40.65 522.03L39.08 523.39L39.65 525.53L38.03 524.25L36.41 525.53L36.98 523.39L35.41 522.03L37.38 521.99Z" fill="#ff00ff" stroke="#ff00ff" stroke-width="0.5"/>
<path d="M52.46 519.88L53.11 521.99L55.08 522.03L53.51 523.39L54.08 525.53L52.46 524.25L50.84 525.53L51.41 523.39L49.84 522.03L51.81 521.99Z" fill="#ff00ff" stroke="#ff00ff" stroke-width="0.5"/>
<path d="M66.89 519.88L67.54 521.99L69.51 522.03L67.94 523.39L68.51 525.53L66.89 524.25L65.27 525.53L65.84 523.39L64.27 522.03L66.24 521.99Z" fill="#ff00ff" stroke="#ff00ff" stroke-width="0.5"/>
<path d="M81.32 519.88L81.97 521.99L83.94 522.03L82.37 523.39L82.94 525.53L81.32 524.25L79.70 525.53L80.27 523.39L78.70 522.03L80.67 521.99Z" fill="#ff00ff" stroke="#ff00ff" stroke-width="0.5"/>
<path d="M95.75 519.88L96.40 521.99L98.37 522.03L96.80 523.39L97.37 525.53L95.75 524.25L94.13 525.53L94.70 523.39L93.13 522.03L95.10 521.99Z" fill="#ff00ff" stroke="#ff00ff" stroke-width="0.5"/>
<path d="M110.18 519.88L110.83 521.99L112.80 522.03L111.23 523.39L111.80 525.53L110.18 524.25L108.56 525.53L109.13 523.39L107.56 522.03L109.53 521.99Z" fill="#ff00ff" stroke="#ff00ff" stroke-width="0.5"/>
<path d="M124.61 519.88L125.26 521.99L127.23 522.03L125.66 523.39L126.23 525.53L124.61 524.25L122.99 525.53L123.56 523.39L121.99 522.03L123.96 521.99Z" fill="#ff00ff" stroke="#ff00ff" stroke-width="0.5"/>
<path d="M139.04 519.88L139.69 521.99L141.66 522.03L140.09 523.39L140.66 525.53L139.04 524.25L137.42 525.53L137.99 523.39L136.42 522.03L138.39 521.99Z" fill="#ff00ff" stroke="#ff00ff" stroke-width="0.5"/>
<path d="M153.47 519.88L154.12 521.99L156.09 522.03L154.52 523.39L155.09 525.53L153.47 524.25L151.85 525.53L152.42 523.39L150.85 522.03L152.82 521.99Z" fill="#ff00ff" stroke="#ff00ff" stroke-width="0.5"/>
<path d="M22.00 385.45L23.60 383.15L25.20 385.45L23.60 387.75Z" fill="#000000" stroke="#000000" stroke-width="0.5"/>
<path d="M36.43 523.00L38.03 520.70L39.63 523.00L38.03 525.30Z" fill="#000000" stroke="#000000" stroke-width="0.5"/>
<path d="M50.86 523.00L52.46 520.70L54.06 523.00L52.46 525.30Z" fill="#000000" stroke="#000000" stroke-width="0.5"/>
<path d="M65.29 523.00L66.89 520.70L68.49 523.00L66.89 525.30Z" fill="#000000" stroke="#000000" stroke-width="0.5"/>
<path d="M79.72 523.00L81.32 520.70L82.92 523.00L81.32 525.30Z" fill="#000000" stroke="#000000" stroke-width="0.5"/>
<path d="M94.15 523.00L95.75 520.70L97.35 523.00L95.75 525.30Z" fill="#000000" stroke="#000000" stroke-width="0.5"/>
<path d="M108.58 523.00L110.18 520.70L111.78 523.00L110.18 525.30Z" fill="#000000" stroke="#000000" stroke-width="0.5"/>
<path d="M123.01 523.00L124.61 520.70L126.21 523.00L124.61 525.30Z" fill="#000000" stroke="#000000" stroke-width="0.5"/>
<path d="M137.44 523.00L139.04 520.70L140.64 523.00L139.04 525.30Z" fill="#000000" stroke="#000000" stroke-width="0.5"/>
<path d="M151.87 523.00L153.47 520.70L155.07 523.00L153.47 525.30Z" fill="#000000" stroke="#000000" stroke-width="0.5"/>
<rect x="131.30" y="382.60" width="32.8" height="43.3" fill="#fff" stroke="#444" stroke-width="0.6"/>
<path d="M132.50 387.30h13.2" stroke="#ff0000" stroke-width="1.3"/>
<path d="M136.60 389.62L141.60 389.62L139.10 384.40Z" fill="none" stroke="#ff0000" stroke-width="0.9"/>
<text transform="translate(147.00 389.10) scale(0.8 1)" font-size="5.2" text-anchor="start" font-weight="bold" fill="#111" stroke="#111" stroke-width="0.1">MSGWO</text>
<path d="M132.50 394.35h13.2" stroke="#000000" stroke-width="1.3"/>
<ellipse cx="139.10" cy="394.35" rx="1.75" ry="2.30" fill="none" stroke="#000000" stroke-width="0.9"/>
<text transform="translate(147.00 396.15) scale(0.8 1)" font-size="5.2" text-anchor="start" font-weight="bold" fill="#111" stroke="#111" stroke-width="0.1">GWO</text>
<path d="M132.50 401.40h13.2" stroke="#0000ff" stroke-width="1.3"/>
<path d="M137.20 401.40L139.10 398.00L141.00 401.40L139.10 404.80Z" fill="none" stroke="#0000ff" stroke-width="0.9"/>
<text transform="translate(147.00 403.20) scale(0.8 1)" font-size="5.2" text-anchor="start" font-weight="bold" fill="#111" stroke="#111" stroke-width="0.1">MEGWO</text>
<path d="M132.50 408.45h13.2" stroke="#00ffff" stroke-width="1.3"/>
<rect x="137.60" y="406.50" width="3.00" height="3.90" fill="none" stroke="#00ffff" stroke-width="0.9"/>
<text transform="translate(147.00 410.25) scale(0.8 1)" font-size="5.2" text-anchor="start" font-weight="bold" fill="#111" stroke="#111" stroke-width="0.1">mGWO</text>
<path d="M132.50 415.50h13.2" stroke="#ff00ff" stroke-width="1.3"/>
<path d="M139.10 412.37L139.75 414.49L141.72 414.53L140.15 415.89L140.72 418.03L139.10 416.75L137.48 418.03L138.05 415.89L136.48 414.53L138.45 414.49Z" fill="#ff00ff" stroke="#ff00ff" stroke-width="0.5"/>
<text transform="translate(147.00 417.30) scale(0.8 1)" font-size="5.2" text-anchor="start" font-weight="bold" fill="#111" stroke="#111" stroke-width="0.1">IGWO</text>
<path d="M132.50 422.55h13.2" stroke="#000000" stroke-width="1.3"/>
<path d="M137.50 422.55L139.10 420.25L140.70 422.55L139.10 424.85Z" fill="#000000" stroke="#000000" stroke-width="0.5"/>
<text transform="translate(147.00 424.35) scale(0.8 1)" font-size="5.2" text-anchor="start" font-weight="bold" fill="#111" stroke="#111" stroke-width="0.1">MPSO</text>
<path d="M225.11 377.70V523.00M239.52 377.70V523.00M253.93 377.70V523.00M268.34 377.70V523.00M282.75 377.70V523.00M297.16 377.70V523.00M311.57 377.70V523.00M325.98 377.70V523.00M340.39 377.70V523.00M210.70 401.92H354.80M210.70 426.13H354.80M210.70 450.35H354.80M210.70 474.57H354.80M210.70 498.78H354.80" stroke="#e8e8e8" stroke-width="0.55" fill="none"/>
<path d="M210.70 523.00v-1.5M210.70 377.70v1.5M225.11 523.00v-1.5M225.11 377.70v1.5M239.52 523.00v-1.5M239.52 377.70v1.5M253.93 523.00v-1.5M253.93 377.70v1.5M268.34 523.00v-1.5M268.34 377.70v1.5M282.75 523.00v-1.5M282.75 377.70v1.5M297.16 523.00v-1.5M297.16 377.70v1.5M311.57 523.00v-1.5M311.57 377.70v1.5M325.98 523.00v-1.5M325.98 377.70v1.5M340.39 523.00v-1.5M340.39 377.70v1.5M354.80 523.00v-1.5M354.80 377.70v1.5M210.70 377.70h1.5M354.80 377.70h-1.5M210.70 401.92h1.5M354.80 401.92h-1.5M210.70 426.13h1.5M354.80 426.13h-1.5M210.70 450.35h1.5M354.80 450.35h-1.5M210.70 474.57h1.5M354.80 474.57h-1.5M210.70 498.78h1.5M354.80 498.78h-1.5M210.70 523.00h1.5M354.80 523.00h-1.5" stroke="#555" stroke-width="0.5" fill="none"/>
<rect x="210.70" y="377.70" width="144.10" height="145.30" fill="none" stroke="#555" stroke-width="0.65"/>
<text transform="translate(210.70 531.40) scale(0.8 1)" font-size="5.3" text-anchor="middle" font-weight="normal" fill="#222" stroke="#222" stroke-width="0.2">0</text>
<text transform="translate(225.11 531.40) scale(0.8 1)" font-size="5.3" text-anchor="middle" font-weight="normal" fill="#222" stroke="#222" stroke-width="0.2">50</text>
<text transform="translate(239.52 531.40) scale(0.8 1)" font-size="5.3" text-anchor="middle" font-weight="normal" fill="#222" stroke="#222" stroke-width="0.2">100</text>
<text transform="translate(253.93 531.40) scale(0.8 1)" font-size="5.3" text-anchor="middle" font-weight="normal" fill="#222" stroke="#222" stroke-width="0.2">150</text>
<text transform="translate(268.34 531.40) scale(0.8 1)" font-size="5.3" text-anchor="middle" font-weight="normal" fill="#222" stroke="#222" stroke-width="0.2">200</text>
<text transform="translate(282.75 531.40) scale(0.8 1)" font-size="5.3" text-anchor="middle" font-weight="normal" fill="#222" stroke="#222" stroke-width="0.2">250</text>
<text transform="translate(297.16 531.40) scale(0.8 1)" font-size="5.3" text-anchor="middle" font-weight="normal" fill="#222" stroke="#222" stroke-width="0.2">300</text>
<text transform="translate(311.57 531.40) scale(0.8 1)" font-size="5.3" text-anchor="middle" font-weight="normal" fill="#222" stroke="#222" stroke-width="0.2">350</text>
<text transform="translate(325.98 531.40) scale(0.8 1)" font-size="5.3" text-anchor="middle" font-weight="normal" fill="#222" stroke="#222" stroke-width="0.2">400</text>
<text transform="translate(340.39 531.40) scale(0.8 1)" font-size="5.3" text-anchor="middle" font-weight="normal" fill="#222" stroke="#222" stroke-width="0.2">450</text>
<text transform="translate(354.80 531.40) scale(0.8 1)" font-size="5.3" text-anchor="middle" font-weight="normal" fill="#222" stroke="#222" stroke-width="0.2">500</text>
<text transform="translate(208.30 379.50) scale(0.8 1)" font-size="5.3" text-anchor="end" font-weight="normal" fill="#222" stroke="#222" stroke-width="0.2">0</text>
<text transform="translate(208.30 403.72) scale(0.8 1)" font-size="5.3" text-anchor="end" font-weight="normal" fill="#222" stroke="#222" stroke-width="0.2">-2</text>
<text transform="translate(208.30 427.93) scale(0.8 1)" font-size="5.3" text-anchor="end" font-weight="normal" fill="#222" stroke="#222" stroke-width="0.2">-4</text>
<text transform="translate(208.30 452.15) scale(0.8 1)" font-size="5.3" text-anchor="end" font-weight="normal" fill="#222" stroke="#222" stroke-width="0.2">-6</text>
<text transform="translate(208.30 476.37) scale(0.8 1)" font-size="5.3" text-anchor="end" font-weight="normal" fill="#222" stroke="#222" stroke-width="0.2">-8</text>
<text transform="translate(208.30 500.58) scale(0.8 1)" font-size="5.3" text-anchor="end" font-weight="normal" fill="#222" stroke="#222" stroke-width="0.2">-10</text>
<text transform="translate(208.30 524.80) scale(0.8 1)" font-size="5.3" text-anchor="end" font-weight="normal" fill="#222" stroke="#222" stroke-width="0.2">-12</text>
<text transform="translate(211.90 376.40) scale(0.85 1)" font-size="5.2" text-anchor="start" font-weight="normal" fill="#2a2a2a" stroke="#2a2a2a" stroke-width="0.25">x 10<tspan font-size="3.8" dy="-2.4" dx="-0.5">48</tspan></text>
<text transform="translate(282.35 375.30) scale(0.76 1)" font-size="6.2" text-anchor="middle" font-weight="bold" fill="#111" stroke="#111" stroke-width="0.15">F8</text>
<text transform="translate(282.45 542.24) scale(0.78 1)" font-size="8.4" text-anchor="middle" font-weight="normal" fill="#262626" stroke="#262626" stroke-width="0.32">Iterations</text>
<text transform="translate(199.60 450.65) rotate(-90) scale(1 0.8)" font-size="8.4" text-anchor="middle" font-weight="normal" fill="#262626" stroke="#262626" stroke-width="0.32">Fitness value</text>
<path d="M210.70 377.70L351.34 377.70L352.21 381.33L352.93 401.92L353.36 450.35L353.50 507.26L354.66 507.26" fill="none" stroke="#ff0000" stroke-width="1.15" stroke-linejoin="round"/>
<path d="M210.70 377.70L354.80 377.70" fill="none" stroke="#000000" stroke-width="0.95" stroke-linejoin="round"/>
<path d="M210.70 377.70L354.80 377.70" fill="none" stroke="#0000ff" stroke-width="1.2" stroke-linejoin="round"/>
<path d="M210.70 377.70L354.80 377.70" fill="none" stroke="#00ffff" stroke-width="1.25" stroke-linejoin="round"/>
<path d="M210.70 377.70L354.80 377.70" fill="none" stroke="#ff00ff" stroke-width="1.25" stroke-linejoin="round"/>
<path d="M210.70 377.70L354.80 377.70" fill="none" stroke="#000000" stroke-width="1.35" stroke-linejoin="round"/>
<path d="M208.20 380.02L213.20 380.02L210.70 374.80Z" fill="none" stroke="#ff0000" stroke-width="0.9"/>
<path d="M222.61 380.02L227.61 380.02L225.11 374.80Z" fill="none" stroke="#ff0000" stroke-width="0.9"/>
<path d="M237.02 380.02L242.02 380.02L239.52 374.80Z" fill="none" stroke="#ff0000" stroke-width="0.9"/>
<path d="M251.43 380.02L256.43 380.02L253.93 374.80Z" fill="none" stroke="#ff0000" stroke-width="0.9"/>
<path d="M265.84 380.02L270.84 380.02L268.34 374.80Z" fill="none" stroke="#ff0000" stroke-width="0.9"/>
<path d="M280.25 380.02L285.25 380.02L282.75 374.80Z" fill="none" stroke="#ff0000" stroke-width="0.9"/>
<path d="M294.66 380.02L299.66 380.02L297.16 374.80Z" fill="none" stroke="#ff0000" stroke-width="0.9"/>
<path d="M309.07 380.02L314.07 380.02L311.57 374.80Z" fill="none" stroke="#ff0000" stroke-width="0.9"/>
<path d="M323.48 380.02L328.48 380.02L325.98 374.80Z" fill="none" stroke="#ff0000" stroke-width="0.9"/>
<path d="M337.89 380.02L342.89 380.02L340.39 374.80Z" fill="none" stroke="#ff0000" stroke-width="0.9"/>
<ellipse cx="210.70" cy="377.70" rx="1.75" ry="2.30" fill="none" stroke="#000000" stroke-width="0.9"/>
<ellipse cx="225.11" cy="377.70" rx="1.75" ry="2.30" fill="none" stroke="#000000" stroke-width="0.9"/>
<ellipse cx="239.52" cy="377.70" rx="1.75" ry="2.30" fill="none" stroke="#000000" stroke-width="0.9"/>
<ellipse cx="253.93" cy="377.70" rx="1.75" ry="2.30" fill="none" stroke="#000000" stroke-width="0.9"/>
<ellipse cx="268.34" cy="377.70" rx="1.75" ry="2.30" fill="none" stroke="#000000" stroke-width="0.9"/>
<ellipse cx="282.75" cy="377.70" rx="1.75" ry="2.30" fill="none" stroke="#000000" stroke-width="0.9"/>
<ellipse cx="297.16" cy="377.70" rx="1.75" ry="2.30" fill="none" stroke="#000000" stroke-width="0.9"/>
<ellipse cx="311.57" cy="377.70" rx="1.75" ry="2.30" fill="none" stroke="#000000" stroke-width="0.9"/>
<ellipse cx="325.98" cy="377.70" rx="1.75" ry="2.30" fill="none" stroke="#000000" stroke-width="0.9"/>
<ellipse cx="340.39" cy="377.70" rx="1.75" ry="2.30" fill="none" stroke="#000000" stroke-width="0.9"/>
<path d="M208.80 377.70L210.70 374.30L212.60 377.70L210.70 381.10Z" fill="none" stroke="#0000ff" stroke-width="0.9"/>
<path d="M223.21 377.70L225.11 374.30L227.01 377.70L225.11 381.10Z" fill="none" stroke="#0000ff" stroke-width="0.9"/>
<path d="M237.62 377.70L239.52 374.30L241.42 377.70L239.52 381.10Z" fill="none" stroke="#0000ff" stroke-width="0.9"/>
<path d="M252.03 377.70L253.93 374.30L255.83 377.70L253.93 381.10Z" fill="none" stroke="#0000ff" stroke-width="0.9"/>
<path d="M266.44 377.70L268.34 374.30L270.24 377.70L268.34 381.10Z" fill="none" stroke="#0000ff" stroke-width="0.9"/>
<path d="M280.85 377.70L282.75 374.30L284.65 377.70L282.75 381.10Z" fill="none" stroke="#0000ff" stroke-width="0.9"/>
<path d="M295.26 377.70L297.16 374.30L299.06 377.70L297.16 381.10Z" fill="none" stroke="#0000ff" stroke-width="0.9"/>
<path d="M309.67 377.70L311.57 374.30L313.47 377.70L311.57 381.10Z" fill="none" stroke="#0000ff" stroke-width="0.9"/>
<path d="M324.08 377.70L325.98 374.30L327.88 377.70L325.98 381.10Z" fill="none" stroke="#0000ff" stroke-width="0.9"/>
<path d="M338.49 377.70L340.39 374.30L342.29 377.70L340.39 381.10Z" fill="none" stroke="#0000ff" stroke-width="0.9"/>
<rect x="209.20" y="375.75" width="3.00" height="3.90" fill="none" stroke="#00ffff" stroke-width="0.9"/>
<rect x="223.61" y="375.75" width="3.00" height="3.90" fill="none" stroke="#00ffff" stroke-width="0.9"/>
<rect x="238.02" y="375.75" width="3.00" height="3.90" fill="none" stroke="#00ffff" stroke-width="0.9"/>
<rect x="252.43" y="375.75" width="3.00" height="3.90" fill="none" stroke="#00ffff" stroke-width="0.9"/>
<rect x="266.84" y="375.75" width="3.00" height="3.90" fill="none" stroke="#00ffff" stroke-width="0.9"/>
<rect x="281.25" y="375.75" width="3.00" height="3.90" fill="none" stroke="#00ffff" stroke-width="0.9"/>
<rect x="295.66" y="375.75" width="3.00" height="3.90" fill="none" stroke="#00ffff" stroke-width="0.9"/>
<rect x="310.07" y="375.75" width="3.00" height="3.90" fill="none" stroke="#00ffff" stroke-width="0.9"/>
<rect x="324.48" y="375.75" width="3.00" height="3.90" fill="none" stroke="#00ffff" stroke-width="0.9"/>
<rect x="338.89" y="375.75" width="3.00" height="3.90" fill="none" stroke="#00ffff" stroke-width="0.9"/>
<path d="M210.70 374.57L211.35 376.69L213.32 376.73L211.75 378.09L212.32 380.23L210.70 378.95L209.08 380.23L209.65 378.09L208.08 376.73L210.05 376.69Z" fill="#ff00ff" stroke="#ff00ff" stroke-width="0.5"/>
<path d="M225.11 374.57L225.76 376.69L227.73 376.73L226.16 378.09L226.73 380.23L225.11 378.95L223.49 380.23L224.06 378.09L222.49 376.73L224.46 376.69Z" fill="#ff00ff" stroke="#ff00ff" stroke-width="0.5"/>
<path d="M239.52 374.57L240.17 376.69L242.14 376.73L240.57 378.09L241.14 380.23L239.52 378.95L237.90 380.23L238.47 378.09L236.90 376.73L238.87 376.69Z" fill="#ff00ff" stroke="#ff00ff" stroke-width="0.5"/>
<path d="M253.93 374.57L254.58 376.69L256.55 376.73L254.98 378.09L255.55 380.23L253.93 378.95L252.31 380.23L252.88 378.09L251.31 376.73L253.28 376.69Z" fill="#ff00ff" stroke="#ff00ff" stroke-width="0.5"/>
<path d="M268.34 374.57L268.99 376.69L270.96 376.73L269.39 378.09L269.96 380.23L268.34 378.95L266.72 380.23L267.29 378.09L265.72 376.73L267.69 376.69Z" fill="#ff00ff" stroke="#ff00ff" stroke-width="0.5"/>
<path d="M282.75 374.57L283.40 376.69L285.37 376.73L283.80 378.09L284.37 380.23L282.75 378.95L281.13 380.23L281.70 378.09L280.13 376.73L282.10 376.69Z" fill="#ff00ff" stroke="#ff00ff" stroke-width="0.5"/>
<path d="M297.16 374.57L297.81 376.69L299.78 376.73L298.21 378.09L298.78 380.23L297.16 378.95L295.54 380.23L296.11 378.09L294.54 376.73L296.51 376.69Z" fill="#ff00ff" stroke="#ff00ff" stroke-width="0.5"/>
<path d="M311.57 374.57L312.22 376.69L314.19 376.73L312.62 378.09L313.19 380.23L311.57 378.95L309.95 380.23L310.52 378.09L308.95 376.73L310.92 376.69Z" fill="#ff00ff" stroke="#ff00ff" stroke-width="0.5"/>
<path d="M325.98 374.57L326.63 376.69L328.60 376.73L327.03 378.09L327.60 380.23L325.98 378.95L324.36 380.23L324.93 378.09L323.36 376.73L325.33 376.69Z" fill="#ff00ff" stroke="#ff00ff" stroke-width="0.5"/>
<path d="M340.39 374.57L341.04 376.69L343.01 376.73L341.44 378.09L342.01 380.23L340.39 378.95L338.77 380.23L339.34 378.09L337.77 376.73L339.74 376.69Z" fill="#ff00ff" stroke="#ff00ff" stroke-width="0.5"/>
<path d="M209.10 377.70L210.70 375.40L212.30 377.70L210.70 380.00Z" fill="#000000" stroke="#000000" stroke-width="0.5"/>
<path d="M223.51 377.70L225.11 375.40L226.71 377.70L225.11 380.00Z" fill="#000000" stroke="#000000" stroke-width="0.5"/>
<path d="M237.92 377.70L239.52 375.40L241.12 377.70L239.52 380.00Z" fill="#000000" stroke="#000000" stroke-width="0.5"/>
<path d="M252.33 377.70L253.93 375.40L255.53 377.70L253.93 380.00Z" fill="#000000" stroke="#000000" stroke-width="0.5"/>
<path d="M266.74 377.70L268.34 375.40L269.94 377.70L268.34 380.00Z" fill="#000000" stroke="#000000" stroke-width="0.5"/>
<path d="M281.15 377.70L282.75 375.40L284.35 377.70L282.75 380.00Z" fill="#000000" stroke="#000000" stroke-width="0.5"/>
<path d="M295.56 377.70L297.16 375.40L298.76 377.70L297.16 380.00Z" fill="#000000" stroke="#000000" stroke-width="0.5"/>
<path d="M309.97 377.70L311.57 375.40L313.17 377.70L311.57 380.00Z" fill="#000000" stroke="#000000" stroke-width="0.5"/>
<path d="M324.38 377.70L325.98 375.40L327.58 377.70L325.98 380.00Z" fill="#000000" stroke="#000000" stroke-width="0.5"/>
<path d="M338.79 377.70L340.39 375.40L341.99 377.70L340.39 380.00Z" fill="#000000" stroke="#000000" stroke-width="0.5"/>
<rect x="211.10" y="384.50" width="32.8" height="43.3" fill="#fff" stroke="#444" stroke-width="0.6"/>
<path d="M212.30 389.20h13.2" stroke="#ff0000" stroke-width="1.3"/>
<path d="M216.40 391.52L221.40 391.52L218.90 386.30Z" fill="none" stroke="#ff0000" stroke-width="0.9"/>
<text transform="translate(226.80 391.00) scale(0.8 1)" font-size="5.2" text-anchor="start" font-weight="bold" fill="#111" stroke="#111" stroke-width="0.1">MSGWO</text>
<path d="M212.30 396.25h13.2" stroke="#000000" stroke-width="1.3"/>
<ellipse cx="218.90" cy="396.25" rx="1.75" ry="2.30" fill="none" stroke="#000000" stroke-width="0.9"/>
<text transform="translate(226.80 398.05) scale(0.8 1)" font-size="5.2" text-anchor="start" font-weight="bold" fill="#111" stroke="#111" stroke-width="0.1">GWO</text>
<path d="M212.30 403.30h13.2" stroke="#0000ff" stroke-width="1.3"/>
<path d="M217.00 403.30L218.90 399.90L220.80 403.30L218.90 406.70Z" fill="none" stroke="#0000ff" stroke-width="0.9"/>
<text transform="translate(226.80 405.10) scale(0.8 1)" font-size="5.2" text-anchor="start" font-weight="bold" fill="#111" stroke="#111" stroke-width="0.1">MEGWO</text>
<path d="M212.30 410.35h13.2" stroke="#00ffff" stroke-width="1.3"/>
<rect x="217.40" y="408.40" width="3.00" height="3.90" fill="none" stroke="#00ffff" stroke-width="0.9"/>
<text transform="translate(226.80 412.15) scale(0.8 1)" font-size="5.2" text-anchor="start" font-weight="bold" fill="#111" stroke="#111" stroke-width="0.1">mGWO</text>
<path d="M212.30 417.40h13.2" stroke="#ff00ff" stroke-width="1.3"/>
<path d="M218.90 414.27L219.55 416.39L221.52 416.43L219.95 417.79L220.52 419.93L218.90 418.65L217.28 419.93L217.85 417.79L216.28 416.43L218.25 416.39Z" fill="#ff00ff" stroke="#ff00ff" stroke-width="0.5"/>
<text transform="translate(226.80 419.20) scale(0.8 1)" font-size="5.2" text-anchor="start" font-weight="bold" fill="#111" stroke="#111" stroke-width="0.1">IGWO</text>
<path d="M212.30 424.45h13.2" stroke="#000000" stroke-width="1.3"/>
<path d="M217.30 424.45L218.90 422.15L220.50 424.45L218.90 426.75Z" fill="#000000" stroke="#000000" stroke-width="0.5"/>
<text transform="translate(226.80 426.25) scale(0.8 1)" font-size="5.2" text-anchor="start" font-weight="bold" fill="#111" stroke="#111" stroke-width="0.1">MPSO</text>
<path d="M412.12 377.70V523.00M426.54 377.70V523.00M440.96 377.70V523.00M455.38 377.70V523.00M469.80 377.70V523.00M484.22 377.70V523.00M498.64 377.70V523.00M513.06 377.70V523.00M527.48 377.70V523.00M397.70 508.47H541.90M397.70 493.94H541.90M397.70 479.41H541.90M397.70 464.88H541.90M397.70 450.35H541.90M397.70 435.82H541.90M397.70 421.29H541.90M397.70 406.76H541.90M397.70 392.23H541.90" stroke="#e8e8e8" stroke-width="0.55" fill="none"/>
<path d="M397.70 523.00v-1.5M397.70 377.70v1.5M412.12 523.00v-1.5M412.12 377.70v1.5M426.54 523.00v-1.5M426.54 377.70v1.5M440.96 523.00v-1.5M440.96 377.70v1.5M455.38 523.00v-1.5M455.38 377.70v1.5M469.80 523.00v-1.5M469.80 377.70v1.5M484.22 523.00v-1.5M484.22 377.70v1.5M498.64 523.00v-1.5M498.64 377.70v1.5M513.06 523.00v-1.5M513.06 377.70v1.5M527.48 523.00v-1.5M527.48 377.70v1.5M541.90 523.00v-1.5M541.90 377.70v1.5M397.70 523.00h1.5M541.90 523.00h-1.5M397.70 508.47h1.5M541.90 508.47h-1.5M397.70 493.94h1.5M541.90 493.94h-1.5M397.70 479.41h1.5M541.90 479.41h-1.5M397.70 464.88h1.5M541.90 464.88h-1.5M397.70 450.35h1.5M541.90 450.35h-1.5M397.70 435.82h1.5M541.90 435.82h-1.5M397.70 421.29h1.5M541.90 421.29h-1.5M397.70 406.76h1.5M541.90 406.76h-1.5M397.70 392.23h1.5M541.90 392.23h-1.5M397.70 377.70h1.5M541.90 377.70h-1.5" stroke="#555" stroke-width="0.5" fill="none"/>
<rect x="397.70" y="377.70" width="144.20" height="145.30" fill="none" stroke="#555" stroke-width="0.65"/>
<text transform="translate(397.70 531.60) scale(0.8 1)" font-size="5.3" text-anchor="middle" font-weight="normal" fill="#222" stroke="#222" stroke-width="0.2">0</text>
<text transform="translate(412.12 531.60) scale(0.8 1)" font-size="5.3" text-anchor="middle" font-weight="normal" fill="#222" stroke="#222" stroke-width="0.2">50</text>
<text transform="translate(426.54 531.60) scale(0.8 1)" font-size="5.3" text-anchor="middle" font-weight="normal" fill="#222" stroke="#222" stroke-width="0.2">100</text>
<text transform="translate(440.96 531.60) scale(0.8 1)" font-size="5.3" text-anchor="middle" font-weight="normal" fill="#222" stroke="#222" stroke-width="0.2">150</text>
<text transform="translate(455.38 531.60) scale(0.8 1)" font-size="5.3" text-anchor="middle" font-weight="normal" fill="#222" stroke="#222" stroke-width="0.2">200</text>
<text transform="translate(469.80 531.60) scale(0.8 1)" font-size="5.3" text-anchor="middle" font-weight="normal" fill="#222" stroke="#222" stroke-width="0.2">250</text>
<text transform="translate(484.22 531.60) scale(0.8 1)" font-size="5.3" text-anchor="middle" font-weight="normal" fill="#222" stroke="#222" stroke-width="0.2">300</text>
<text transform="translate(498.64 531.60) scale(0.8 1)" font-size="5.3" text-anchor="middle" font-weight="normal" fill="#222" stroke="#222" stroke-width="0.2">350</text>
<text transform="translate(513.06 531.60) scale(0.8 1)" font-size="5.3" text-anchor="middle" font-weight="normal" fill="#222" stroke="#222" stroke-width="0.2">400</text>
<text transform="translate(527.48 531.60) scale(0.8 1)" font-size="5.3" text-anchor="middle" font-weight="normal" fill="#222" stroke="#222" stroke-width="0.2">450</text>
<text transform="translate(541.90 531.60) scale(0.8 1)" font-size="5.3" text-anchor="middle" font-weight="normal" fill="#222" stroke="#222" stroke-width="0.2">500</text>
<text transform="translate(395.30 524.80) scale(0.8 1)" font-size="5.3" text-anchor="end" font-weight="normal" fill="#222" stroke="#222" stroke-width="0.2">0</text>
<text transform="translate(395.30 510.27) scale(0.8 1)" font-size="5.3" text-anchor="end" font-weight="normal" fill="#222" stroke="#222" stroke-width="0.2">50</text>
<text transform="translate(395.30 495.74) scale(0.8 1)" font-size="5.3" text-anchor="end" font-weight="normal" fill="#222" stroke="#222" stroke-width="0.2">100</text>
<text transform="translate(395.30 481.21) scale(0.8 1)" font-size="5.3" text-anchor="end" font-weight="normal" fill="#222" stroke="#222" stroke-width="0.2">150</text>
<text transform="translate(395.30 466.68) scale(0.8 1)" font-size="5.3" text-anchor="end" font-weight="normal" fill="#222" stroke="#222" stroke-width="0.2">200</text>
<text transform="translate(395.30 452.15) scale(0.8 1)" font-size="5.3" text-anchor="end" font-weight="normal" fill="#222" stroke="#222" stroke-width="0.2">250</text>
<text transform="translate(395.30 437.62) scale(0.8 1)" font-size="5.3" text-anchor="end" font-weight="normal" fill="#222" stroke="#222" stroke-width="0.2">300</text>
<text transform="translate(395.30 423.09) scale(0.8 1)" font-size="5.3" text-anchor="end" font-weight="normal" fill="#222" stroke="#222" stroke-width="0.2">350</text>
<text transform="translate(395.30 408.56) scale(0.8 1)" font-size="5.3" text-anchor="end" font-weight="normal" fill="#222" stroke="#222" stroke-width="0.2">400</text>
<text transform="translate(395.30 394.03) scale(0.8 1)" font-size="5.3" text-anchor="end" font-weight="normal" fill="#222" stroke="#222" stroke-width="0.2">450</text>
<text transform="translate(395.30 379.50) scale(0.8 1)" font-size="5.3" text-anchor="end" font-weight="normal" fill="#222" stroke="#222" stroke-width="0.2">500</text>
<text transform="translate(469.40 375.30) scale(0.76 1)" font-size="6.2" text-anchor="middle" font-weight="bold" fill="#111" stroke="#111" stroke-width="0.15">F9</text>
<text transform="translate(469.50 542.36) scale(0.78 1)" font-size="8.4" text-anchor="middle" font-weight="normal" fill="#262626" stroke="#262626" stroke-width="0.32">Iterations</text>
<text transform="translate(385.40 450.65) rotate(-90) scale(1 0.8)" font-size="8.4" text-anchor="middle" font-weight="normal" fill="#262626" stroke="#262626" stroke-width="0.32">Fitness value</text>
<path d="M397.70 523.00L541.90 523.00" fill="none" stroke="#ff0000" stroke-width="1.15" stroke-linejoin="round"/>
<path d="M397.70 399.50L398.28 430.01L399.14 450.35L399.94 450.35L400.58 454.71L402.17 454.71L403.47 460.52L404.26 460.52L404.91 464.88L405.70 464.88L406.35 475.05L407.15 475.05L407.79 482.32L408.59 482.32L409.24 485.22L410.03 485.22L410.68 493.94L411.47 493.94L412.12 505.56L412.91 505.56L413.56 511.38L414.36 511.38L415.00 513.70L416.59 513.70L417.89 514.86L419.47 514.86L420.77 517.19L421.57 517.19L422.21 521.55L423.01 521.55L423.66 523.00L541.90 523.00" fill="none" stroke="#000000" stroke-width="0.95" stroke-linejoin="round"/>
<path d="M397.70 425.65L398.28 464.88L399.14 485.22L399.94 485.22L400.58 491.03L401.38 491.03L402.03 495.39L402.82 495.39L403.47 498.30L404.26 498.30L404.91 501.20L405.70 501.20L406.35 504.11L407.15 504.11L407.79 507.02L408.59 507.02L409.24 509.92L410.03 509.92L410.68 511.96L411.47 511.96L412.12 512.83L413.71 512.83L415.00 513.70L416.59 513.70L417.89 514.86L419.47 514.86L420.77 516.61L422.36 516.61L423.66 517.19L425.24 517.19L426.54 517.77L428.13 517.77L429.42 518.64L432.60 518.64L435.19 520.09L436.78 520.09L438.08 521.55L439.66 521.55L440.96 522.42L442.55 522.42L443.84 523.00L541.90 523.00" fill="none" stroke="#0000ff" stroke-width="1.2" stroke-linejoin="round"/>
<path d="M397.70 400.95L398.49 400.95L399.14 406.76L399.94 406.76L400.58 409.67L401.38 409.67L402.03 421.29L402.82 421.29L403.47 432.91L404.26 432.91L404.91 435.82L405.70 435.82L406.35 440.18L407.94 440.18L409.24 441.63L412.12 441.63L413.71 441.63L415.00 443.08L415.80 443.08L416.45 445.99L418.03 445.99L419.33 448.90L420.92 448.90L422.21 453.26L423.80 453.26L425.10 454.71L425.89 454.71L426.54 456.16L428.13 456.16L429.42 457.62L431.01 457.62L432.31 459.07L442.40 459.07L442.98 472.14L444.25 472.14L445.29 475.05L455.38 475.05L456.97 475.05L458.26 476.50L459.85 476.50L461.15 479.41L462.73 479.41L464.03 482.32L465.62 482.32L466.92 486.68L468.50 486.68L469.80 488.71L471.39 488.71L472.68 489.58L475.86 489.58L478.45 492.49L480.04 492.49L481.34 493.36L541.90 493.36" fill="none" stroke="#00ffff" stroke-width="1.25" stroke-linejoin="round"/>
<path d="M397.70 400.95L398.28 430.01L399.14 447.44L399.94 447.44L400.58 453.26L402.17 453.26L403.47 460.52L405.05 460.52L406.35 462.56L412.12 462.56L415.00 461.97L416.59 461.97L417.89 466.33L419.47 466.33L420.77 467.79L422.36 467.79L423.66 471.27L425.24 471.27L426.54 472.14L440.96 472.14L442.55 472.14L443.84 473.60L445.43 473.60L446.73 476.50L448.31 476.50L449.61 479.41L451.20 479.41L452.50 482.32L453.29 482.32L453.94 486.68L454.73 486.68L455.38 488.71L456.17 488.71L456.82 493.94L457.62 493.94L458.26 498.30L459.85 498.30L461.15 501.20L462.73 501.20L464.03 502.66L465.62 502.66L466.92 505.56L468.50 505.56L469.80 509.05L471.39 509.05L472.68 511.96L474.27 511.96L475.57 513.70L478.74 513.70L481.34 514.28L484.22 514.28L487.39 514.28L489.99 515.74L494.75 515.74L498.64 517.19L503.40 517.19L507.29 517.77L510.46 517.77L513.06 518.06L520.99 518.06L527.48 518.64L535.41 518.64L541.90 519.22" fill="none" stroke="#ff00ff" stroke-width="1.25" stroke-linejoin="round"/>
<path d="M397.70 392.23L398.28 427.10L399.14 450.35L399.94 450.35L400.58 454.13L412.12 454.13L413.71 454.13L415.00 455.58L415.80 455.58L416.45 458.49L418.03 458.49L419.33 460.52L420.92 460.52L422.21 463.43L423.01 463.43L423.66 466.33L425.24 466.33L426.54 469.24L428.13 469.24L429.42 471.27L430.22 471.27L430.87 476.50L438.08 476.50L439.66 476.50L440.96 477.96L442.55 477.96L443.84 480.86L444.64 480.86L445.29 483.77L446.87 483.77L448.17 488.13L449.76 488.13L451.05 489.58L452.64 489.58L453.94 492.49L454.73 492.49L455.38 493.07L458.55 493.07L461.15 493.94L462.73 493.94L464.03 496.85L466.41 496.85L468.36 498.30L469.15 498.30L469.80 499.75L471.39 499.75L472.68 502.66L474.27 502.66L475.57 507.02L476.36 507.02L477.01 512.83L479.89 512.83L480.69 512.83L481.34 518.64L482.92 518.64L484.22 520.09L485.81 520.09L487.10 521.55L488.69 521.55L489.99 522.42L493.16 522.42L495.76 523.00L541.90 523.00" fill="none" stroke="#000000" stroke-width="1.2" stroke-linejoin="round"/>
<path d="M395.20 525.32L400.20 525.32L397.70 520.10Z" fill="none" stroke="#ff0000" stroke-width="0.9"/>
<path d="M409.62 525.32L414.62 525.32L412.12 520.10Z" fill="none" stroke="#ff0000" stroke-width="0.9"/>
<path d="M424.04 525.32L429.04 525.32L426.54 520.10Z" fill="none" stroke="#ff0000" stroke-width="0.9"/>
<path d="M438.46 525.32L443.46 525.32L440.96 520.10Z" fill="none" stroke="#ff0000" stroke-width="0.9"/>
<path d="M452.88 525.32L457.88 525.32L455.38 520.10Z" fill="none" stroke="#ff0000" stroke-width="0.9"/>
<path d="M467.30 525.32L472.30 525.32L469.80 520.10Z" fill="none" stroke="#ff0000" stroke-width="0.9"/>
<path d="M481.72 525.32L486.72 525.32L484.22 520.10Z" fill="none" stroke="#ff0000" stroke-width="0.9"/>
<path d="M496.14 525.32L501.14 525.32L498.64 520.10Z" fill="none" stroke="#ff0000" stroke-width="0.9"/>
<path d="M510.56 525.32L515.56 525.32L513.06 520.10Z" fill="none" stroke="#ff0000" stroke-width="0.9"/>
<path d="M524.98 525.32L529.98 525.32L527.48 520.10Z" fill="none" stroke="#ff0000" stroke-width="0.9"/>
<ellipse cx="397.70" cy="399.50" rx="1.75" ry="2.30" fill="none" stroke="#000000" stroke-width="0.9"/>
<ellipse cx="412.12" cy="505.56" rx="1.75" ry="2.30" fill="none" stroke="#000000" stroke-width="0.9"/>
<ellipse cx="426.54" cy="523.00" rx="1.75" ry="2.30" fill="none" stroke="#000000" stroke-width="0.9"/>
<ellipse cx="440.96" cy="523.00" rx="1.75" ry="2.30" fill="none" stroke="#000000" stroke-width="0.9"/>
<ellipse cx="455.38" cy="523.00" rx="1.75" ry="2.30" fill="none" stroke="#000000" stroke-width="0.9"/>
<ellipse cx="469.80" cy="523.00" rx="1.75" ry="2.30" fill="none" stroke="#000000" stroke-width="0.9"/>
<ellipse cx="484.22" cy="523.00" rx="1.75" ry="2.30" fill="none" stroke="#000000" stroke-width="0.9"/>
<ellipse cx="498.64" cy="523.00" rx="1.75" ry="2.30" fill="none" stroke="#000000" stroke-width="0.9"/>
<ellipse cx="513.06" cy="523.00" rx="1.75" ry="2.30" fill="none" stroke="#000000" stroke-width="0.9"/>
<ellipse cx="527.48" cy="523.00" rx="1.75" ry="2.30" fill="none" stroke="#000000" stroke-width="0.9"/>
<path d="M395.80 425.65L397.70 422.25L399.60 425.65L397.70 429.05Z" fill="none" stroke="#0000ff" stroke-width="0.9"/>
<path d="M410.22 512.83L412.12 509.43L414.02 512.83L412.12 516.23Z" fill="none" stroke="#0000ff" stroke-width="0.9"/>
<path d="M424.64 517.77L426.54 514.37L428.44 517.77L426.54 521.17Z" fill="none" stroke="#0000ff" stroke-width="0.9"/>
<path d="M439.06 522.42L440.96 519.02L442.86 522.42L440.96 525.82Z" fill="none" stroke="#0000ff" stroke-width="0.9"/>
<path d="M453.48 523.00L455.38 519.60L457.28 523.00L455.38 526.40Z" fill="none" stroke="#0000ff" stroke-width="0.9"/>
<path d="M467.90 523.00L469.80 519.60L471.70 523.00L469.80 526.40Z" fill="none" stroke="#0000ff" stroke-width="0.9"/>
<path d="M482.32 523.00L484.22 519.60L486.12 523.00L484.22 526.40Z" fill="none" stroke="#0000ff" stroke-width="0.9"/>
<path d="M496.74 523.00L498.64 519.60L500.54 523.00L498.64 526.40Z" fill="none" stroke="#0000ff" stroke-width="0.9"/>
<path d="M511.16 523.00L513.06 519.60L514.96 523.00L513.06 526.40Z" fill="none" stroke="#0000ff" stroke-width="0.9"/>
<path d="M525.58 523.00L527.48 519.60L529.38 523.00L527.48 526.40Z" fill="none" stroke="#0000ff" stroke-width="0.9"/>
<rect x="396.20" y="399.00" width="3.00" height="3.90" fill="none" stroke="#00ffff" stroke-width="0.9"/>
<rect x="410.62" y="439.68" width="3.00" height="3.90" fill="none" stroke="#00ffff" stroke-width="0.9"/>
<rect x="425.04" y="454.21" width="3.00" height="3.90" fill="none" stroke="#00ffff" stroke-width="0.9"/>
<rect x="439.46" y="457.12" width="3.00" height="3.90" fill="none" stroke="#00ffff" stroke-width="0.9"/>
<rect x="453.88" y="473.10" width="3.00" height="3.90" fill="none" stroke="#00ffff" stroke-width="0.9"/>
<rect x="468.30" y="486.76" width="3.00" height="3.90" fill="none" stroke="#00ffff" stroke-width="0.9"/>
<rect x="482.72" y="491.41" width="3.00" height="3.90" fill="none" stroke="#00ffff" stroke-width="0.9"/>
<rect x="497.14" y="491.41" width="3.00" height="3.90" fill="none" stroke="#00ffff" stroke-width="0.9"/>
<rect x="511.56" y="491.41" width="3.00" height="3.90" fill="none" stroke="#00ffff" stroke-width="0.9"/>
<rect x="525.98" y="491.41" width="3.00" height="3.90" fill="none" stroke="#00ffff" stroke-width="0.9"/>
<path d="M397.70 397.82L398.35 399.94L400.32 399.98L398.75 401.33L399.32 403.48L397.70 402.20L396.08 403.48L396.65 401.33L395.08 399.98L397.05 399.94Z" fill="#ff00ff" stroke="#ff00ff" stroke-width="0.5"/>
<path d="M412.12 459.43L412.77 461.54L414.74 461.59L413.17 462.94L413.74 465.08L412.12 463.81L410.50 465.08L411.07 462.94L409.50 461.59L411.47 461.54Z" fill="#ff00ff" stroke="#ff00ff" stroke-width="0.5"/>
<path d="M426.54 469.02L427.19 471.13L429.16 471.18L427.59 472.53L428.16 474.67L426.54 473.39L424.92 474.67L425.49 472.53L423.92 471.18L425.89 471.13Z" fill="#ff00ff" stroke="#ff00ff" stroke-width="0.5"/>
<path d="M440.96 469.02L441.61 471.13L443.58 471.18L442.01 472.53L442.58 474.67L440.96 473.39L439.34 474.67L439.91 472.53L438.34 471.18L440.31 471.13Z" fill="#ff00ff" stroke="#ff00ff" stroke-width="0.5"/>
<path d="M455.38 485.58L456.03 487.70L458.00 487.74L456.43 489.10L457.00 491.24L455.38 489.96L453.76 491.24L454.33 489.10L452.76 487.74L454.73 487.70Z" fill="#ff00ff" stroke="#ff00ff" stroke-width="0.5"/>
<path d="M469.80 505.93L470.45 508.04L472.42 508.09L470.85 509.44L471.42 511.58L469.80 510.30L468.18 511.58L468.75 509.44L467.18 508.09L469.15 508.04Z" fill="#ff00ff" stroke="#ff00ff" stroke-width="0.5"/>
<path d="M484.22 511.16L484.87 513.27L486.84 513.32L485.27 514.67L485.84 516.81L484.22 515.53L482.60 516.81L483.17 514.67L481.60 513.32L483.57 513.27Z" fill="#ff00ff" stroke="#ff00ff" stroke-width="0.5"/>
<path d="M498.64 514.06L499.29 516.18L501.26 516.22L499.69 517.57L500.26 519.72L498.64 518.44L497.02 519.72L497.59 517.57L496.02 516.22L497.99 516.18Z" fill="#ff00ff" stroke="#ff00ff" stroke-width="0.5"/>
<path d="M513.06 514.93L513.71 517.05L515.68 517.09L514.11 518.45L514.68 520.59L513.06 519.31L511.44 520.59L512.01 518.45L510.44 517.09L512.41 517.05Z" fill="#ff00ff" stroke="#ff00ff" stroke-width="0.5"/>
<path d="M527.48 515.52L528.13 517.63L530.10 517.68L528.53 519.03L529.10 521.17L527.48 519.89L525.86 521.17L526.43 519.03L524.86 517.68L526.83 517.63Z" fill="#ff00ff" stroke="#ff00ff" stroke-width="0.5"/>
<path d="M396.10 392.23L397.70 389.93L399.30 392.23L397.70 394.53Z" fill="#000000" stroke="#000000" stroke-width="0.5"/>
<path d="M410.52 454.13L412.12 451.83L413.72 454.13L412.12 456.43Z" fill="#000000" stroke="#000000" stroke-width="0.5"/>
<path d="M424.94 469.24L426.54 466.94L428.14 469.24L426.54 471.54Z" fill="#000000" stroke="#000000" stroke-width="0.5"/>
<path d="M439.36 477.96L440.96 475.66L442.56 477.96L440.96 480.26Z" fill="#000000" stroke="#000000" stroke-width="0.5"/>
<path d="M453.78 493.07L455.38 490.77L456.98 493.07L455.38 495.37Z" fill="#000000" stroke="#000000" stroke-width="0.5"/>
<path d="M468.20 499.75L469.80 497.45L471.40 499.75L469.80 502.05Z" fill="#000000" stroke="#000000" stroke-width="0.5"/>
<path d="M482.62 520.09L484.22 517.79L485.82 520.09L484.22 522.39Z" fill="#000000" stroke="#000000" stroke-width="0.5"/>
<path d="M497.04 523.00L498.64 520.70L500.24 523.00L498.64 525.30Z" fill="#000000" stroke="#000000" stroke-width="0.5"/>
<path d="M511.46 523.00L513.06 520.70L514.66 523.00L513.06 525.30Z" fill="#000000" stroke="#000000" stroke-width="0.5"/>
<path d="M525.88 523.00L527.48 520.70L529.08 523.00L527.48 525.30Z" fill="#000000" stroke="#000000" stroke-width="0.5"/>
<rect x="505.30" y="382.60" width="32.8" height="43.3" fill="#fff" stroke="#444" stroke-width="0.6"/>
<path d="M506.50 387.30h13.2" stroke="#ff0000" stroke-width="1.3"/>
<path d="M510.60 389.62L515.60 389.62L513.10 384.40Z" fill="none" stroke="#ff0000" stroke-width="0.9"/>
<text transform="translate(521.00 389.10) scale(0.8 1)" font-size="5.2" text-anchor="start" font-weight="bold" fill="#111" stroke="#111" stroke-width="0.1">MSGWO</text>
<path d="M506.50 394.35h13.2" stroke="#000000" stroke-width="1.3"/>
<ellipse cx="513.10" cy="394.35" rx="1.75" ry="2.30" fill="none" stroke="#000000" stroke-width="0.9"/>
<text transform="translate(521.00 396.15) scale(0.8 1)" font-size="5.2" text-anchor="start" font-weight="bold" fill="#111" stroke="#111" stroke-width="0.1">GWO</text>
<path d="M506.50 401.40h13.2" stroke="#0000ff" stroke-width="1.3"/>
<path d="M511.20 401.40L513.10 398.00L515.00 401.40L513.10 404.80Z" fill="none" stroke="#0000ff" stroke-width="0.9"/>
<text transform="translate(521.00 403.20) scale(0.8 1)" font-size="5.2" text-anchor="start" font-weight="bold" fill="#111" stroke="#111" stroke-width="0.1">MEGWO</text>
<path d="M506.50 408.45h13.2" stroke="#00ffff" stroke-width="1.3"/>
<rect x="511.60" y="406.50" width="3.00" height="3.90" fill="none" stroke="#00ffff" stroke-width="0.9"/>
<text transform="translate(521.00 410.25) scale(0.8 1)" font-size="5.2" text-anchor="start" font-weight="bold" fill="#111" stroke="#111" stroke-width="0.1">mGWO</text>
<path d="M506.50 415.50h13.2" stroke="#ff00ff" stroke-width="1.3"/>
<path d="M513.10 412.37L513.75 414.49L515.72 414.53L514.15 415.89L514.72 418.03L513.10 416.75L511.48 418.03L512.05 415.89L510.48 414.53L512.45 414.49Z" fill="#ff00ff" stroke="#ff00ff" stroke-width="0.5"/>
<text transform="translate(521.00 417.30) scale(0.8 1)" font-size="5.2" text-anchor="start" font-weight="bold" fill="#111" stroke="#111" stroke-width="0.1">IGWO</text>
<path d="M506.50 422.55h13.2" stroke="#000000" stroke-width="1.3"/>
<path d="M511.50 422.55L513.10 420.25L514.70 422.55L513.10 424.85Z" fill="#000000" stroke="#000000" stroke-width="0.5"/>
<text transform="translate(521.00 424.35) scale(0.8 1)" font-size="5.2" text-anchor="start" font-weight="bold" fill="#111" stroke="#111" stroke-width="0.1">MPSO</text>
</g>
</svg>
</body></html>
